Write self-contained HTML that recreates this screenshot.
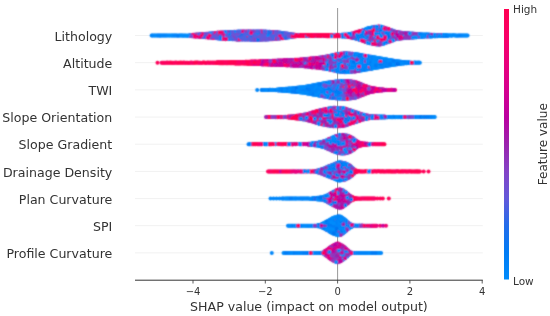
<!DOCTYPE html>
<html><head><meta charset="utf-8"><style>
html,body{margin:0;padding:0;background:#fff;}
svg{display:block;font-family:"DejaVu Sans","Liberation Sans",sans-serif;}
</style></head><body>
<svg width="550" height="316" viewBox="0 0 550 316">
<line x1="135.0" y1="35.5" x2="482.8" y2="35.5" stroke="#f1f1f1" stroke-width="1"/>
<line x1="135.0" y1="62.7" x2="482.8" y2="62.7" stroke="#f1f1f1" stroke-width="1"/>
<line x1="135.0" y1="89.9" x2="482.8" y2="89.9" stroke="#f1f1f1" stroke-width="1"/>
<line x1="135.0" y1="117.1" x2="482.8" y2="117.1" stroke="#f1f1f1" stroke-width="1"/>
<line x1="135.0" y1="144.2" x2="482.8" y2="144.2" stroke="#f1f1f1" stroke-width="1"/>
<line x1="135.0" y1="171.4" x2="482.8" y2="171.4" stroke="#f1f1f1" stroke-width="1"/>
<line x1="135.0" y1="198.6" x2="482.8" y2="198.6" stroke="#f1f1f1" stroke-width="1"/>
<line x1="135.0" y1="225.7" x2="482.8" y2="225.7" stroke="#f1f1f1" stroke-width="1"/>
<line x1="135.0" y1="252.9" x2="482.8" y2="252.9" stroke="#f1f1f1" stroke-width="1"/>
<line x1="337.6" y1="8" x2="337.6" y2="280.2" stroke="#999" stroke-width="1"/>
<defs><filter id="bl" x="-5%" y="-5%" width="110%" height="110%"><feConvolveMatrix order="3" kernelMatrix="1 2 1 2 8 2 1 2 1" divisor="20" edgeMode="none" preserveAlpha="false"/></filter></defs><g fill="none" stroke-width="4.0" stroke-linecap="round" filter="url(#bl)"><path stroke="#236cea" d="M217.2 32.8h0M207.9 34.5h0M286.0 37.7h0"/>
<path stroke="#f20072" d="M237.9 39.7h0M208.5 33.7h0M259.1 35.2h0M368.5 38.2h0M189.9 36.1h0M209.3 36.0h0M374.0 41.9h0M276.0 37.3h0M202.8 36.3h0M363.4 36.4h0M366.7 31.0h0M203.3 35.1h0M353.3 33.2h0M311.0 35.0h0M193.1 36.3h0M351.7 33.5h0M190.6 36.1h0"/>
<path stroke="#0084f9" d="M383.3 38.5h0M371.4 40.6h0M441.9 35.1h0M153.2 35.5h0M437.4 36.2h0M247.9 39.2h0M376.4 38.3h0M412.6 33.6h0M223.6 32.4h0M367.4 28.6h0M361.2 30.8h0M154.0 35.5h0M188.4 35.7h0M376.5 41.3h0M215.5 38.1h0M157.2 35.5h0M221.4 38.8h0"/>
<path stroke="#d5008f" d="M394.5 34.1h0"/>
<path stroke="#4b63e3" d="M268.4 39.4h0M234.5 32.6h0M253.0 33.3h0M242.2 39.0h0M294.7 34.7h0M273.7 32.0h0M220.7 38.1h0M287.4 37.5h0M249.3 31.5h0M265.8 34.5h0M240.3 39.6h0M259.8 39.2h0M201.0 36.9h0M226.9 38.9h0"/>
<path stroke="#754fd1" d="M418.0 37.0h0M239.5 39.5h0M287.3 37.2h0M214.7 38.0h0M265.8 31.6h0M216.4 32.9h0M226.7 32.2h0M248.2 35.0h0M229.0 32.1h0M281.9 35.2h0M340.1 34.9h0M290.8 34.1h0"/>
<path stroke="#007cf5" d="M382.5 43.9h0M259.8 32.9h0M396.4 36.8h0M362.9 33.9h0M377.1 44.4h0M384.9 28.0h0M450.0 35.2h0M426.1 34.5h0M351.6 37.6h0M387.0 41.1h0M369.3 28.2h0M274.6 39.1h0M355.4 36.6h0"/>
<path stroke="#fe005c" d="M301.7 35.0h0M313.2 35.0h0M330.7 36.2h0M312.6 35.0h0M298.1 36.1h0"/>
<path stroke="#f90067" d="M328.1 34.9h0M304.1 35.0h0M211.5 37.3h0M392.9 32.2h0M198.9 34.4h0"/>
<path stroke="#008bfb" d="M377.1 43.8h0M344.3 34.6h0M442.6 35.1h0M409.3 33.4h0M381.2 41.8h0M178.8 35.5h0M403.6 38.1h0M187.6 35.7h0M393.7 35.1h0M431.0 36.4h0M433.0 36.3h0M363.4 38.3h0M375.9 26.8h0M446.2 36.0h0M359.5 39.8h0M393.9 33.0h0M366.2 29.1h0M353.1 37.9h0M389.5 40.4h0M373.6 32.2h0M381.8 27.2h0M350.7 33.7h0M347.6 34.3h0M388.9 41.7h0M390.0 32.8h0M366.9 39.6h0M361.4 40.3h0M284.4 36.2h0M162.0 35.6h0M351.7 37.6h0M264.5 39.5h0M172.4 35.5h0M386.5 32.4h0M247.2 38.5h0M449.2 35.6h0M382.7 27.2h0M236.9 39.4h0M390.7 30.0h0M389.7 29.7h0M202.6 34.1h0"/>
<path stroke="#8443c6" d="M190.2 35.0h0M194.6 34.7h0M270.3 35.5h0M373.1 43.9h0M402.6 32.9h0M254.5 31.4h0M224.4 32.3h0M362.1 30.5h0M403.1 38.2h0"/>
<path stroke="#9b23ad" d="M414.5 37.3h0M394.8 39.5h0M398.2 34.4h0"/>
<path stroke="#0074f0" d="M158.0 35.5h0M458.8 35.6h0M411.6 37.6h0"/>
<path stroke="#c80098" d="M403.9 35.6h0"/>
<path stroke="#6359da" d="M223.1 32.4h0M222.0 38.7h0M227.5 32.2h0M278.4 36.5h0M200.3 36.8h0M294.0 36.3h0M225.3 36.4h0M241.5 31.9h0M271.5 39.2h0M253.8 39.0h0M213.9 33.1h0M216.7 35.7h0M206.9 36.3h0M267.5 31.7h0M210.8 37.6h0M223.4 38.7h0M246.9 36.4h0M251.9 37.0h0M249.1 39.6h0M250.1 39.7h0M229.8 39.1h0M283.4 33.4h0M271.1 37.0h0M254.6 37.3h0"/>
<path stroke="#e9007c" d="M274.6 33.6h0M213.3 37.9h0M289.3 33.9h0M371.9 35.6h0M206.1 33.8h0M263.0 39.6h0M258.7 36.8h0M356.5 34.7h0M221.9 36.7h0M365.5 36.2h0M368.9 31.0h0"/>
<path stroke="#9135ba" d="M386.5 36.5h0M409.2 37.7h0M395.3 37.3h0M410.7 34.5h0M434.3 34.8h0M379.4 26.6h0M379.5 39.2h0M379.4 36.2h0M388.8 39.2h0"/>
<path stroke="#e00086" d="M363.6 30.0h0"/>
<path stroke="#ab15a7" d="M408.7 37.8h0"/>
<path stroke="#ff0051" d="M322.2 36.1h0M309.9 35.0h0M329.3 34.9h0M306.1 35.0h0M299.7 35.0h0M293.7 34.6h0"/>
<path stroke="#0074f0" d="M400.6 38.5h0"/>
<path stroke="#236cea" d="M243.4 33.2h0M257.1 39.7h0M284.6 38.0h0"/>
<path stroke="#8443c6" d="M382.1 44.1h0M384.5 33.7h0M387.8 42.3h0M408.8 34.8h0"/>
<path stroke="#e9007c" d="M283.5 33.0h0M378.6 26.6h0M387.0 34.3h0M200.4 34.9h0M388.5 29.1h0M390.4 35.3h0M347.8 35.6h0M360.0 39.3h0M195.8 34.6h0"/>
<path stroke="#fe005c" d="M241.6 34.1h0M234.0 31.8h0M326.1 34.9h0M325.4 35.0h0"/>
<path stroke="#ab15a7" d="M382.7 32.0h0"/>
<path stroke="#e00086" d="M375.7 28.8h0"/>
<path stroke="#754fd1" d="M231.5 39.1h0M296.7 36.2h0M204.7 34.0h0M197.6 35.6h0M265.2 37.8h0M190.8 35.0h0M255.9 39.7h0M265.6 32.3h0M251.9 32.7h0M267.3 37.6h0M367.6 30.7h0M268.2 33.2h0M276.4 38.9h0"/>
<path stroke="#f20072" d="M384.7 30.4h0M217.8 32.6h0M227.4 38.9h0M225.0 35.2h0M202.2 37.0h0M205.9 34.3h0M262.0 33.1h0M204.9 35.6h0M390.6 39.6h0M390.9 41.1h0M267.5 32.7h0M266.1 39.5h0M223.4 36.3h0M213.9 34.4h0M212.4 37.1h0M265.4 35.8h0"/>
<path stroke="#6359da" d="M224.7 37.5h0M252.5 39.7h0M250.9 39.1h0M292.5 36.7h0M247.3 32.6h0M233.0 39.2h0M279.2 33.3h0M368.1 33.4h0M212.1 33.3h0M268.5 31.7h0M217.6 36.6h0M233.5 31.9h0M242.0 31.5h0M257.7 36.0h0M256.2 31.7h0M287.0 33.5h0"/>
<path stroke="#d5008f" d="M399.0 32.4h0"/>
<path stroke="#0084f9" d="M446.9 36.0h0M337.1 34.9h0M162.8 35.6h0M361.5 32.5h0M393.7 39.4h0M354.0 37.6h0M369.9 37.9h0M176.4 35.4h0M288.4 37.4h0M404.2 38.0h0M390.8 37.4h0M406.0 33.9h0M156.4 35.5h0M405.0 37.9h0M201.8 34.8h0M155.6 35.5h0M373.0 27.2h0M358.7 31.8h0M427.0 36.5h0M281.9 33.4h0M352.2 33.4h0M380.9 38.0h0M368.1 38.1h0M371.4 33.3h0M282.2 38.2h0M349.7 37.2h0M453.2 35.3h0M318.2 35.0h0"/>
<path stroke="#f90067" d="M373.9 28.0h0M207.7 37.4h0M306.1 36.1h0M198.1 35.1h0M235.4 31.8h0M201.5 36.8h0M358.7 31.6h0M379.5 28.5h0M259.7 39.7h0M309.9 36.1h0"/>
<path stroke="#007cf5" d="M436.2 36.2h0M400.1 32.6h0M364.8 34.4h0M362.9 30.3h0M378.2 44.5h0M345.3 36.6h0M174.8 35.6h0M366.2 37.6h0M338.2 36.2h0M462.8 35.6h0M402.1 36.8h0"/>
<path stroke="#9135ba" d="M397.0 38.9h0M418.0 34.1h0M203.6 34.0h0M372.5 27.4h0M421.3 36.8h0M395.6 38.6h0M440.2 35.1h0M368.3 35.5h0M405.0 34.9h0M427.3 36.5h0M380.3 40.3h0"/>
<path stroke="#ff0051" d="M311.4 35.0h0M344.4 36.5h0M336.4 36.2h0M333.0 34.9h0M335.1 34.9h0M316.3 35.0h0M307.5 36.1h0M315.1 36.1h0M325.4 36.1h0M300.6 35.0h0"/>
<path stroke="#bb00a0" d="M408.6 36.4h0"/>
<path stroke="#4b63e3" d="M262.0 39.7h0M288.6 33.7h0M269.9 31.8h0M246.9 39.6h0M218.1 34.7h0M234.5 37.5h0M219.2 34.2h0M239.3 37.7h0M211.5 37.7h0M280.1 34.2h0M232.7 38.5h0M197.0 36.6h0M221.1 38.6h0M224.9 33.0h0M215.2 37.6h0M293.4 34.5h0"/>
<path stroke="#008bfb" d="M444.3 35.1h0M366.1 41.6h0M414.0 33.7h0M226.9 36.9h0M367.6 40.2h0M389.4 30.5h0M387.1 28.6h0M177.2 35.6h0M364.6 41.4h0M441.2 36.0h0M362.9 39.1h0M375.1 38.9h0M394.3 36.1h0M452.4 35.3h0M441.9 36.0h0M363.6 34.0h0M377.2 28.1h0M398.4 38.7h0M447.1 35.1h0M358.0 36.8h0M348.9 37.1h0M372.0 29.3h0M369.7 43.2h0M423.6 36.7h0M262.8 37.2h0M221.1 36.2h0M433.4 34.8h0M382.0 32.1h0M343.8 36.5h0M356.1 33.0h0M171.6 35.6h0M152.4 35.5h0M189.2 35.3h0"/>
<path stroke="#9b23ad" d="M398.0 32.2h0M372.5 41.1h0M360.0 37.0h0M354.6 32.8h0M338.1 34.9h0M399.0 38.7h0"/>
<path stroke="#008bfb" d="M381.7 29.7h0M435.4 34.9h0M160.4 35.5h0M362.6 40.8h0M385.4 43.1h0M388.2 31.4h0M309.3 36.1h0M170.8 35.6h0M392.5 30.6h0M173.2 35.6h0M375.3 44.3h0M353.2 34.9h0M357.9 34.3h0M320.2 35.0h0M384.8 41.0h0M230.3 32.2h0M436.2 34.9h0M415.8 35.3h0M371.6 31.5h0M290.6 35.4h0M388.6 41.6h0M376.9 33.8h0M368.5 28.4h0M438.8 35.0h0M419.3 36.8h0M191.7 34.9h0M315.5 35.0h0M361.7 37.1h0M393.2 30.9h0M424.4 34.5h0M410.7 33.5h0M466.0 35.6h0M391.3 31.1h0M373.7 27.0h0M458.0 35.6h0M175.6 35.5h0M364.6 29.7h0M170.0 35.5h0M243.8 38.6h0M355.4 38.5h0M230.9 35.2h0"/>
<path stroke="#4b63e3" d="M219.0 38.4h0M271.5 35.0h0M253.3 31.4h0M293.0 36.6h0M286.5 35.6h0M285.9 33.4h0M243.9 32.4h0M245.1 39.6h0M282.3 32.9h0M263.4 31.5h0M243.6 31.5h0M273.0 32.0h0M209.2 33.6h0M229.9 32.0h0"/>
<path stroke="#236cea" d="M252.0 38.7h0M219.7 37.9h0M242.6 39.6h0M236.2 32.4h0M301.3 36.1h0"/>
<path stroke="#e9007c" d="M221.2 34.0h0M199.8 36.8h0M360.7 31.1h0M270.8 31.9h0"/>
<path stroke="#754fd1" d="M244.4 31.5h0M275.4 32.9h0M202.7 37.0h0M244.7 39.6h0M204.9 34.2h0M206.7 37.3h0M262.0 31.4h0M269.3 31.8h0M406.6 33.3h0M251.0 31.4h0M248.4 39.6h0M290.8 34.6h0M236.9 31.7h0M256.0 34.2h0M231.7 37.1h0"/>
<path stroke="#9135ba" d="M376.2 36.2h0M422.8 35.9h0M411.8 33.5h0M374.9 26.8h0M403.7 33.0h0M392.7 39.6h0"/>
<path stroke="#ff0051" d="M319.8 35.0h0M330.1 34.9h0M301.1 35.0h0M309.3 35.0h0M305.1 36.1h0M315.6 36.1h0M319.4 36.1h0M336.4 34.9h0M298.5 35.0h0"/>
<path stroke="#8443c6" d="M396.4 32.1h0M239.4 34.3h0M395.1 31.7h0M372.5 36.2h0M269.3 36.1h0M199.8 34.3h0M360.1 40.0h0"/>
<path stroke="#9b23ad" d="M380.3 44.5h0M378.3 42.2h0"/>
<path stroke="#f90067" d="M275.1 32.0h0M293.9 36.5h0M281.1 37.6h0M342.6 34.7h0M234.0 33.0h0M246.2 31.5h0"/>
<path stroke="#6359da" d="M240.5 31.5h0M209.6 33.8h0M254.1 39.7h0M290.1 37.1h0M279.0 38.6h0M229.1 39.0h0M256.2 31.4h0M269.3 39.3h0M193.8 36.4h0M271.6 32.7h0M213.0 33.2h0M248.8 31.6h0M229.1 37.4h0M280.4 38.4h0M234.2 39.3h0M225.8 32.2h0M224.3 38.8h0M244.3 34.4h0M221.8 34.4h0"/>
<path stroke="#007cf5" d="M242.8 37.1h0M451.6 35.8h0M371.1 27.8h0M316.5 36.1h0M418.6 34.2h0M447.6 35.9h0M417.2 37.1h0M210.8 33.5h0M467.6 35.5h0M408.1 36.0h0M394.2 31.3h0M413.0 33.8h0M397.1 32.2h0M196.7 34.6h0"/>
<path stroke="#0084f9" d="M370.7 43.3h0M250.8 39.7h0M249.3 36.2h0M341.1 36.3h0M372.6 43.7h0M353.7 38.1h0M429.8 34.7h0M373.8 44.1h0M460.4 35.6h0M416.4 34.0h0M357.9 31.8h0M396.5 39.0h0M166.8 35.5h0M278.2 32.4h0M406.7 37.8h0M290.6 37.0h0M360.1 34.8h0M381.4 26.8h0M401.2 35.3h0M423.7 34.4h0M203.6 36.9h0M228.2 39.0h0"/>
<path stroke="#f20072" d="M392.7 40.5h0M238.9 36.0h0M213.9 38.0h0M192.3 36.2h0M236.8 34.8h0M288.4 34.3h0M236.4 39.4h0M378.7 31.0h0M385.7 28.3h0M349.3 35.1h0M289.8 34.2h0M233.0 36.7h0M195.6 36.5h0M303.4 35.0h0M192.6 34.9h0M290.0 35.9h0"/>
<path stroke="#e00086" d="M268.9 38.3h0M372.2 33.8h0"/>
<path stroke="#fe005c" d="M338.6 34.9h0M304.2 36.1h0M327.4 36.2h0M342.0 34.7h0M296.9 35.0h0M389.3 29.4h0M337.3 36.2h0M370.0 30.0h0M317.2 36.1h0M311.3 36.1h0M319.0 35.0h0M305.1 35.0h0"/>
<path stroke="#0074f0" d="M426.7 34.6h0M182.0 35.6h0M389.7 35.3h0M194.1 34.7h0"/>
<path stroke="#e9007c" d="M212.4 37.8h0M206.9 33.8h0M280.5 32.7h0M383.7 36.6h0M378.6 34.9h0M356.9 39.0h0M355.1 36.1h0"/>
<path stroke="#fe005c" d="M248.3 36.9h0M312.4 36.1h0M335.4 34.9h0M329.9 36.2h0"/>
<path stroke="#8443c6" d="M423.9 36.4h0M228.7 32.1h0M260.4 31.4h0M410.2 36.8h0M391.6 30.3h0M227.1 32.8h0M350.0 37.2h0M374.9 37.0h0M386.8 42.5h0M266.4 38.0h0M407.3 37.8h0"/>
<path stroke="#4b63e3" d="M227.1 34.6h0M297.5 36.1h0M250.9 35.3h0M241.4 39.6h0M292.1 34.4h0M263.6 39.6h0M287.3 33.6h0M267.7 39.4h0M290.1 34.0h0M241.5 35.7h0M251.3 31.4h0M253.1 34.8h0M238.9 39.5h0M209.0 37.5h0"/>
<path stroke="#f90067" d="M212.3 35.4h0M324.2 36.1h0M225.3 39.2h0M308.2 36.1h0M355.3 32.6h0M374.6 35.2h0M245.6 36.8h0M332.6 34.9h0M314.2 35.0h0"/>
<path stroke="#008bfb" d="M374.8 41.4h0M400.2 34.6h0M274.3 36.4h0M375.3 31.5h0M438.3 36.1h0M342.5 36.4h0M186.0 35.7h0M231.1 39.1h0M333.9 34.9h0M345.1 34.5h0M378.7 41.5h0M163.6 35.6h0M240.4 35.6h0M380.4 26.6h0M431.4 36.4h0M402.1 34.6h0M383.1 29.6h0M359.9 32.7h0M386.6 29.5h0M318.6 36.1h0M370.0 40.0h0M465.2 35.6h0M343.4 34.6h0M281.2 38.3h0M418.7 34.9h0M367.0 42.3h0M383.4 43.6h0M427.4 34.6h0M391.8 40.8h0M166.0 35.6h0"/>
<path stroke="#9135ba" d="M369.5 35.2h0M369.0 42.9h0M412.2 37.4h0M366.2 35.8h0M408.3 33.3h0"/>
<path stroke="#6359da" d="M276.7 32.3h0M266.3 36.6h0M255.0 39.7h0M233.1 35.6h0M291.4 34.2h0M227.9 35.4h0M277.2 35.0h0M265.5 39.4h0M235.8 39.3h0M276.5 32.2h0M201.0 34.2h0M258.2 39.3h0M211.8 33.4h0M217.1 37.7h0M238.0 36.5h0M215.0 33.1h0M273.2 34.3h0M277.4 32.3h0M225.2 34.1h0M234.4 35.6h0"/>
<path stroke="#f20072" d="M215.5 33.0h0M378.2 26.6h0M387.9 28.8h0M366.8 42.3h0M205.7 37.3h0M383.9 35.6h0M193.2 34.8h0M385.7 42.8h0M362.3 31.1h0M277.9 32.4h0M374.7 40.0h0M383.6 41.1h0M197.4 34.5h0"/>
<path stroke="#bb00a0" d="M395.7 31.9h0"/>
<path stroke="#ff0051" d="M317.0 35.0h0M339.3 34.9h0M307.0 35.0h0M318.0 36.1h0M324.3 35.0h0M327.1 36.2h0M302.2 36.1h0M335.4 36.2h0M327.6 34.9h0"/>
<path stroke="#0084f9" d="M443.8 36.0h0M435.6 36.2h0M418.8 36.9h0M425.9 35.3h0M368.8 33.5h0M370.2 43.1h0M407.3 33.3h0M230.8 32.0h0M403.7 32.9h0M167.6 35.5h0M448.4 35.5h0M261.0 33.3h0M402.4 33.4h0M437.1 34.9h0M388.1 42.0h0M174.0 35.4h0M268.1 35.3h0M285.3 35.2h0M444.7 36.0h0M291.9 36.9h0M219.8 38.5h0M237.9 31.6h0M420.3 34.3h0M346.7 36.7h0M349.9 33.9h0M434.5 36.2h0M168.4 35.6h0"/>
<path stroke="#754fd1" d="M258.6 39.7h0M210.9 35.2h0M258.9 31.4h0M262.7 31.5h0M376.6 44.4h0M236.7 31.7h0M237.4 33.9h0M257.9 31.4h0M253.1 37.0h0M261.2 39.7h0M240.7 33.2h0M257.8 34.9h0M275.4 39.0h0M253.9 33.0h0M263.5 38.9h0M244.9 31.5h0M265.4 39.5h0M238.2 39.5h0M228.4 32.8h0M205.0 33.9h0M247.7 39.6h0M191.5 36.2h0M257.5 37.7h0"/>
<path stroke="#c80098" d="M397.8 32.3h0M399.8 37.1h0"/>
<path stroke="#007cf5" d="M442.8 36.0h0M445.5 35.1h0M420.5 36.8h0M385.5 42.2h0M440.3 36.0h0M404.5 33.1h0M159.6 35.5h0"/>
<path stroke="#236cea" d="M257.0 31.7h0M218.9 35.5h0"/>
<path stroke="#9b23ad" d="M408.3 33.2h0M413.8 37.4h0M406.8 36.0h0M397.9 36.7h0M379.7 43.6h0M412.6 37.5h0M401.3 38.4h0"/>
<path stroke="#6359da" d="M198.1 36.7h0M295.6 34.8h0M262.8 34.7h0M283.4 38.1h0M263.7 34.8h0M246.1 39.6h0M264.8 33.3h0M225.0 38.8h0M399.7 32.5h0M260.1 39.7h0M266.6 39.4h0M216.2 38.2h0M254.2 35.5h0M198.3 34.4h0M241.1 31.5h0M260.5 31.4h0"/>
<path stroke="#e00086" d="M242.8 31.5h0"/>
<path stroke="#008bfb" d="M154.8 35.5h0M279.8 32.6h0M210.0 33.5h0M368.1 42.7h0M322.5 36.1h0M422.6 34.4h0M383.5 34.2h0M225.3 32.3h0M381.8 36.5h0M385.8 34.1h0M454.0 35.3h0M466.8 35.5h0M341.4 34.8h0M399.9 33.3h0M346.8 34.4h0M439.6 35.0h0M398.2 38.8h0M253.9 31.4h0M180.4 35.5h0M417.1 35.8h0M367.2 35.1h0M445.8 35.1h0M279.0 35.3h0M279.2 36.9h0M463.6 35.5h0M374.0 37.7h0M346.1 34.4h0M429.2 36.5h0M372.0 42.6h0M383.4 43.6h0M169.2 35.5h0M165.2 35.6h0M186.8 35.5h0"/>
<path stroke="#ff0051" d="M332.2 36.2h0M217.3 34.1h0M294.8 36.4h0M333.3 36.2h0M300.2 36.1h0M321.8 35.0h0M303.7 36.1h0M333.9 36.2h0M335.0 36.2h0M323.9 35.0h0"/>
<path stroke="#4b63e3" d="M254.4 39.7h0M270.4 37.3h0M286.9 37.6h0M218.0 32.7h0M218.1 38.4h0M274.2 39.1h0M236.9 37.5h0M208.1 35.8h0M239.5 31.6h0M245.6 32.9h0M251.5 35.0h0"/>
<path stroke="#f90067" d="M272.4 31.9h0M313.7 36.1h0M330.7 34.9h0M250.1 31.4h0M321.0 36.1h0M356.4 32.3h0M326.0 36.2h0M348.6 36.9h0M351.0 37.4h0"/>
<path stroke="#9b23ad" d="M372.5 29.2h0M402.1 38.3h0M375.3 44.0h0M425.0 36.6h0M349.1 36.5h0M352.6 37.7h0M385.6 39.1h0"/>
<path stroke="#0084f9" d="M267.0 31.7h0M424.5 35.8h0M385.9 32.3h0M377.6 30.1h0M164.4 35.5h0M289.4 37.2h0M419.7 36.4h0M158.8 35.5h0M378.3 40.2h0M392.0 36.8h0M234.5 31.8h0M355.0 34.5h0M459.6 35.6h0M371.5 27.6h0M362.9 36.5h0M390.8 32.9h0M179.6 35.6h0M356.5 38.8h0M161.2 35.5h0M387.5 39.2h0M428.3 34.6h0M455.6 35.6h0M426.1 36.6h0"/>
<path stroke="#e9007c" d="M199.1 36.7h0M371.2 37.9h0M385.1 37.1h0M358.1 39.3h0M390.2 41.4h0M205.2 37.2h0M384.2 27.7h0"/>
<path stroke="#9135ba" d="M381.0 28.0h0M395.4 39.2h0M377.9 27.0h0M383.9 27.5h0M252.6 31.4h0M393.7 37.4h0M401.8 32.8h0M405.9 33.2h0M413.4 36.2h0M385.3 29.3h0M372.5 38.5h0"/>
<path stroke="#754fd1" d="M262.9 39.0h0M263.8 32.6h0M275.0 37.2h0M285.2 37.9h0M271.6 31.9h0M260.1 37.6h0M265.4 31.6h0M281.5 37.0h0M246.8 31.5h0M216.1 34.9h0M297.9 35.0h0M381.1 44.3h0M390.2 37.6h0M242.2 39.6h0M282.5 32.9h0M248.5 33.0h0M219.1 32.7h0"/>
<path stroke="#c80098" d="M394.1 39.8h0M398.3 36.3h0M396.5 33.9h0"/>
<path stroke="#f20072" d="M230.9 32.6h0M239.6 39.2h0M372.6 31.9h0M194.9 36.4h0M261.4 31.4h0M277.0 38.8h0M357.3 32.1h0M381.4 39.4h0M291.6 36.4h0M354.2 33.0h0M380.0 32.9h0M375.1 44.3h0"/>
<path stroke="#8443c6" d="M432.2 34.8h0M284.9 34.1h0M441.2 35.1h0M382.5 34.0h0M413.8 34.4h0"/>
<path stroke="#fe005c" d="M282.9 38.2h0M365.1 41.7h0M302.7 35.0h0M340.2 36.2h0M295.9 36.3h0M308.2 35.0h0M272.7 39.2h0"/>
<path stroke="#236cea" d="M242.2 35.0h0M270.2 32.6h0"/>
<path stroke="#bb00a0" d="M397.0 34.4h0M379.4 44.5h0"/>
<path stroke="#0074f0" d="M432.6 36.3h0M220.6 32.5h0M429.5 34.6h0M355.0 38.3h0"/>
<path stroke="#007cf5" d="M357.4 37.0h0M376.1 31.2h0M229.6 34.4h0M348.4 34.2h0M178.0 35.7h0M387.9 34.1h0M349.5 34.0h0M368.4 28.1h0M422.7 36.7h0M306.9 36.1h0M461.2 35.4h0M410.9 37.6h0M365.4 41.6h0M430.5 34.7h0"/>
<path stroke="#ab15a7" d="M401.2 32.7h0"/>
<path stroke="#9b23ad" d="M366.1 33.4h0M369.9 33.0h0M378.8 44.5h0M416.2 37.1h0M431.5 34.7h0"/>
<path stroke="#f90067" d="M222.9 38.7h0M378.1 37.8h0M357.7 32.6h0M366.3 42.0h0M201.8 34.1h0M273.0 39.2h0M209.8 37.6h0M384.9 38.6h0M329.3 36.2h0"/>
<path stroke="#236cea" d="M204.5 37.1h0M250.2 37.2h0M284.2 33.1h0M285.1 37.8h0M281.0 32.8h0M240.4 37.1h0"/>
<path stroke="#bb00a0" d="M352.3 34.8h0"/>
<path stroke="#ab15a7" d="M405.2 33.2h0"/>
<path stroke="#754fd1" d="M270.9 39.2h0M418.5 36.4h0M253.1 39.7h0M415.6 33.9h0M259.6 31.4h0M270.1 39.3h0M288.9 36.2h0M437.7 35.0h0M238.6 32.1h0M255.4 37.9h0M221.2 32.5h0M232.8 33.8h0M234.9 39.3h0"/>
<path stroke="#007cf5" d="M365.4 29.4h0M445.1 36.0h0M377.2 26.7h0M380.4 30.3h0M342.0 36.4h0M421.1 34.3h0M456.4 35.6h0"/>
<path stroke="#e00086" d="M247.8 31.5h0"/>
<path stroke="#fe005c" d="M323.8 36.1h0M299.7 36.1h0M302.6 36.1h0M296.2 34.9h0M331.5 34.9h0M373.5 30.2h0M313.3 36.1h0M359.3 31.3h0M315.1 35.0h0"/>
<path stroke="#8443c6" d="M255.8 31.4h0M277.5 34.8h0M256.2 39.7h0M233.6 37.7h0M405.9 37.9h0M416.9 34.0h0M417.1 34.3h0M339.3 36.2h0"/>
<path stroke="#0074f0" d="M257.8 32.6h0M257.9 39.7h0M388.8 36.7h0"/>
<path stroke="#9135ba" d="M428.5 36.5h0M363.5 41.1h0M409.8 37.7h0M369.3 40.3h0M353.9 36.7h0M380.2 42.9h0M400.9 33.0h0M405.7 37.3h0M415.0 35.7h0M413.4 33.7h0M394.8 31.6h0M420.3 34.4h0M412.4 35.2h0M377.5 32.7h0M414.9 33.8h0"/>
<path stroke="#e9007c" d="M223.4 34.6h0M279.6 38.5h0M365.6 31.4h0M392.4 34.0h0M279.9 36.1h0M401.3 36.9h0"/>
<path stroke="#0084f9" d="M430.1 36.4h0M231.4 32.0h0M356.9 34.9h0M151.6 35.5h0M384.4 43.4h0M438.9 36.1h0M434.2 36.3h0M370.1 28.0h0M183.6 35.7h0M425.1 34.5h0M256.9 34.0h0M462.0 35.4h0M376.3 26.7h0M419.5 34.3h0M363.2 31.7h0M457.2 35.7h0M422.2 34.4h0M184.4 35.6h0M371.5 43.5h0M361.7 34.4h0M360.6 38.9h0M220.3 38.6h0"/>
<path stroke="#d5008f" d="M399.7 38.6h0"/>
<path stroke="#6359da" d="M275.5 32.1h0M261.1 35.6h0M263.1 36.7h0M261.4 37.8h0M245.3 35.0h0M251.6 39.7h0M285.5 33.2h0M232.5 31.9h0M210.8 37.1h0M278.0 38.7h0M213.8 36.8h0M275.9 35.0h0M207.7 33.7h0M273.0 39.1h0M243.8 39.6h0"/>
<path stroke="#008bfb" d="M464.4 35.5h0M393.4 40.2h0M366.7 28.8h0M415.4 37.2h0M346.4 36.2h0M182.8 35.5h0M439.9 36.1h0M345.9 36.7h0M454.8 35.5h0M381.0 35.7h0M381.8 27.0h0M421.7 36.7h0M434.7 34.9h0M379.4 33.6h0M409.8 33.4h0M358.6 39.5h0M185.2 35.6h0M367.4 42.5h0M416.0 37.4h0M364.9 38.6h0M443.8 35.1h0M376.0 34.0h0M350.5 34.8h0M450.8 35.5h0M424.1 36.6h0M331.5 36.2h0M413.1 37.4h0M181.2 35.6h0"/>
<path stroke="#4b63e3" d="M264.2 31.6h0M279.0 32.5h0M217.5 38.3h0M232.6 39.2h0M255.7 35.8h0M273.1 36.8h0M200.1 34.3h0M248.9 34.2h0M245.7 39.2h0M203.8 37.1h0M257.4 31.4h0M230.3 37.1h0M273.4 38.2h0M283.5 35.7h0M238.6 31.6h0M222.7 32.4h0M248.4 31.5h0M246.5 34.5h0M241.0 38.1h0M249.4 37.7h0M243.9 36.4h0"/>
<path stroke="#ff0051" d="M338.9 36.2h0M307.5 35.0h0M320.5 36.1h0M219.7 32.6h0M311.1 36.1h0M321.1 35.0h0M328.5 36.2h0M326.8 34.9h0M322.5 35.0h0M298.8 36.1h0"/>
<path stroke="#f20072" d="M372.8 43.8h0M221.9 32.4h0M209.7 35.6h0M251.1 32.9h0M363.3 40.9h0M208.4 37.4h0M196.2 36.5h0M345.5 34.8h0M201.4 35.4h0M347.7 36.8h0M384.5 28.5h0M226.0 38.9h0M361.9 40.6h0"/>
<path stroke="#f20072" d="M339.0 59.8h0M267.0 61.1h0M302.9 66.1h0M324.7 66.5h0M309.7 59.3h0"/>
<path stroke="#007cf5" d="M356.7 55.6h0M355.5 69.0h0M359.4 59.0h0M308.0 66.6h0M407.0 63.2h0"/>
<path stroke="#9135ba" d="M318.1 67.7h0M362.7 64.9h0M304.6 59.1h0M342.7 56.5h0M309.3 66.8h0M332.4 56.8h0M293.6 63.0h0M355.1 56.1h0M326.3 56.5h0M347.3 54.6h0M336.7 54.3h0M347.6 57.1h0M324.0 56.9h0M351.0 58.3h0M349.8 65.8h0M288.4 65.0h0M361.0 55.3h0M337.0 54.8h0"/>
<path stroke="#8443c6" d="M291.0 62.2h0M318.8 57.7h0M314.1 66.4h0M343.9 72.1h0"/>
<path stroke="#754fd1" d="M291.2 60.0h0M308.5 66.7h0"/>
<path stroke="#ab15a7" d="M285.9 62.6h0M267.8 61.0h0"/>
<path stroke="#f90067" d="M193.5 62.8h0M261.4 61.3h0M237.5 62.1h0M236.6 63.4h0M223.8 62.2h0M283.7 62.9h0M340.0 71.2h0M244.0 63.6h0M353.4 71.6h0"/>
<path stroke="#9b23ad" d="M317.6 67.6h0M328.8 56.1h0M300.5 62.0h0M350.3 71.8h0M291.0 63.9h0"/>
<path stroke="#c80098" d="M292.9 65.5h0M319.3 63.4h0M283.4 65.1h0M300.2 60.7h0M277.4 60.6h0M311.0 64.0h0M266.0 61.1h0M286.8 62.5h0M288.6 60.1h0"/>
<path stroke="#e00086" d="M299.2 63.4h0M302.4 59.4h0"/>
<path stroke="#0074f0" d="M388.9 61.8h0"/>
<path stroke="#0084f9" d="M363.0 63.2h0M359.4 61.9h0M385.5 60.4h0M373.0 61.4h0M347.3 59.4h0M369.0 64.5h0M335.7 59.4h0M404.9 62.2h0M346.5 62.8h0M379.2 67.3h0M363.1 66.0h0M375.2 66.7h0M367.6 56.2h0M342.5 58.9h0M403.9 63.4h0M399.9 61.6h0M367.1 66.2h0M384.4 60.4h0M363.3 56.1h0"/>
<path stroke="#bb00a0" d="M289.8 65.3h0M300.2 59.6h0M260.1 61.3h0M322.1 57.2h0M320.7 67.9h0M318.0 58.4h0"/>
<path stroke="#008bfb" d="M383.0 58.9h0M342.5 61.0h0M366.5 55.9h0M361.6 62.4h0M351.1 64.0h0M408.1 62.3h0M347.2 68.6h0M356.7 71.2h0M394.7 63.7h0M415.1 62.6h0M368.2 69.2h0M350.9 71.8h0M373.7 57.2h0M389.6 65.4h0M400.6 63.8h0M369.1 59.6h0M352.7 71.6h0M332.1 70.0h0M338.5 62.3h0M340.2 66.3h0M351.5 66.6h0M325.8 62.3h0M340.5 71.8h0M372.1 57.0h0M352.9 54.0h0M375.0 68.0h0M354.1 53.9h0M366.6 66.6h0M309.1 60.5h0M348.7 71.9h0M385.9 62.5h0M342.6 68.3h0M391.9 64.7h0M376.8 57.8h0M360.0 63.7h0M384.7 59.2h0M371.2 68.7h0"/>
<path stroke="#d5008f" d="M303.9 61.9h0M324.4 59.5h0M315.9 58.0h0M279.3 61.4h0M313.5 67.2h0M266.7 63.8h0M287.8 65.3h0M291.9 61.4h0"/>
<path stroke="#e9007c" d="M265.6 64.3h0M257.7 62.7h0M312.1 67.0h0M268.5 64.4h0M345.2 66.1h0"/>
<path stroke="#ff0051" d="M381.2 59.9h0M260.1 62.8h0M227.0 63.3h0M191.9 62.7h0M249.5 63.8h0M173.5 62.8h0M224.8 62.2h0M211.1 62.8h0M186.3 62.8h0M222.2 63.2h0M212.7 62.6h0M189.5 62.8h0M256.4 62.8h0M249.8 61.7h0M187.9 62.8h0M246.0 61.8h0"/>
<path stroke="#fe005c" d="M180.7 62.6h0M231.4 62.1h0M227.4 62.2h0M251.7 63.8h0M213.5 63.0h0M176.7 62.8h0M218.9 62.3h0M194.3 62.7h0M224.7 63.2h0M235.4 62.1h0M162.3 62.7h0M218.3 63.1h0M183.9 62.6h0M250.3 61.8h0M205.5 62.9h0M370.5 68.8h0M190.3 62.7h0M233.2 62.1h0"/>
<path stroke="#f20072" d="M257.6 63.5h0M260.8 61.3h0M304.6 63.5h0M273.4 64.6h0M247.2 63.7h0M168.7 62.8h0M276.8 63.3h0"/>
<path stroke="#c80098" d="M279.7 64.0h0M292.9 59.9h0M305.5 59.1h0M291.1 65.4h0M294.9 65.7h0M296.9 65.7h0M323.3 57.1h0M287.3 60.2h0M262.5 61.5h0"/>
<path stroke="#d5008f" d="M294.4 61.5h0M296.5 63.1h0M316.0 67.4h0M327.7 59.2h0M284.9 64.9h0M304.5 66.3h0M271.9 60.9h0M269.6 61.0h0M325.3 66.8h0"/>
<path stroke="#0074f0" d="M343.3 62.0h0M335.8 64.3h0M371.8 61.7h0"/>
<path stroke="#ab15a7" d="M321.0 58.2h0M303.2 59.3h0M293.4 65.5h0"/>
<path stroke="#0084f9" d="M334.0 66.6h0M389.5 60.0h0M357.7 54.4h0M395.8 64.4h0M318.7 65.9h0M382.2 58.7h0M396.0 61.1h0M369.2 68.9h0M385.7 59.3h0M394.8 61.0h0M354.9 57.2h0M343.2 53.4h0M347.1 72.1h0M345.2 70.8h0M371.5 63.5h0M318.4 57.8h0M330.1 69.6h0M372.4 68.4h0M369.6 60.6h0M367.5 59.5h0M394.1 60.8h0M355.4 59.1h0"/>
<path stroke="#fe005c" d="M167.1 62.6h0M228.5 63.3h0M242.5 61.9h0M238.2 63.4h0M235.8 62.1h0M215.1 62.7h0M172.7 62.8h0M177.5 62.7h0M259.4 61.4h0M203.1 62.6h0M262.2 61.2h0M221.5 62.3h0M201.5 62.9h0M200.7 62.8h0M241.5 62.0h0M250.0 61.7h0"/>
<path stroke="#bb00a0" d="M288.9 60.2h0M267.8 64.4h0M264.7 64.3h0M293.6 59.9h0M312.6 67.1h0M284.7 60.5h0M286.4 60.2h0"/>
<path stroke="#e00086" d="M300.1 65.8h0M342.3 70.8h0M269.1 62.5h0"/>
<path stroke="#ff0051" d="M185.5 62.7h0M231.9 63.3h0M216.8 62.3h0M165.5 62.7h0M229.6 62.2h0M208.7 62.5h0M253.0 62.7h0M231.8 62.1h0M228.0 62.2h0M220.6 63.2h0"/>
<path stroke="#008bfb" d="M371.1 59.2h0M354.2 67.3h0M348.5 70.1h0M364.8 69.5h0M352.6 57.0h0M342.4 53.5h0M328.7 69.3h0M387.7 59.7h0M363.9 55.5h0M308.9 66.3h0M401.0 61.7h0M339.1 71.6h0M361.4 68.1h0M402.1 61.9h0M315.2 64.1h0M358.5 67.1h0M368.4 56.8h0M391.2 60.3h0M368.8 56.4h0M418.3 62.8h0M345.2 57.3h0M386.9 59.6h0M345.7 69.0h0M344.7 59.2h0M346.2 58.1h0M384.8 66.3h0M404.6 63.3h0M374.8 60.1h0M365.5 59.3h0M380.7 58.5h0M320.5 57.5h0"/>
<path stroke="#f90067" d="M331.9 64.7h0M272.5 64.6h0M228.9 62.2h0M171.1 62.8h0M382.4 66.7h0M192.7 62.8h0M240.4 63.4h0M187.1 62.7h0M379.1 59.8h0M292.4 64.6h0"/>
<path stroke="#9b23ad" d="M314.2 58.2h0"/>
<path stroke="#9135ba" d="M337.8 62.9h0M353.5 53.9h0M344.5 53.3h0M344.9 63.7h0M295.2 65.6h0M318.8 67.7h0M337.7 60.1h0M332.6 62.0h0M361.9 57.4h0M339.9 61.4h0M371.7 56.9h0M300.1 64.8h0M271.1 64.5h0"/>
<path stroke="#754fd1" d="M312.6 58.3h0M343.4 59.4h0M307.9 58.8h0"/>
<path stroke="#e9007c" d="M266.3 64.3h0M341.3 71.8h0M282.4 61.5h0M258.6 61.4h0M323.5 64.6h0M315.0 58.1h0"/>
<path stroke="#007cf5" d="M342.1 54.5h0M397.0 61.2h0M375.1 62.2h0M346.0 55.6h0M347.0 53.4h0M336.0 71.0h0M339.4 53.9h0M379.8 58.3h0M373.8 63.3h0M372.4 59.1h0M358.1 55.6h0"/>
<path stroke="#8443c6" d="M344.0 53.3h0M322.4 65.2h0M363.6 69.9h0M354.9 71.5h0M289.5 60.1h0M289.7 62.3h0M355.2 64.2h0"/>
<path stroke="#d5008f" d="M266.5 62.2h0M298.4 59.7h0M294.8 59.8h0M295.3 61.4h0M291.7 63.3h0M327.7 56.2h0"/>
<path stroke="#e9007c" d="M348.5 71.1h0M321.2 57.4h0M238.8 62.0h0M335.2 70.8h0M262.1 64.2h0"/>
<path stroke="#f20072" d="M209.5 63.0h0M245.5 61.8h0M256.2 64.0h0M271.1 62.8h0M348.2 66.3h0M259.8 64.1h0M330.9 70.0h0"/>
<path stroke="#754fd1" d="M313.3 62.4h0"/>
<path stroke="#9135ba" d="M315.1 65.9h0M355.4 61.1h0M348.9 63.5h0M349.5 58.6h0M352.4 53.8h0M338.3 71.5h0M308.4 64.1h0M360.8 57.3h0M352.1 53.7h0M300.6 65.7h0M333.7 56.5h0M279.0 60.6h0"/>
<path stroke="#f90067" d="M338.2 53.9h0M161.5 62.8h0M281.4 60.5h0M251.9 61.6h0"/>
<path stroke="#8443c6" d="M315.9 61.8h0M311.3 60.3h0M343.8 54.4h0M329.4 56.0h0M317.0 59.9h0M376.0 58.3h0M304.9 61.2h0M337.2 57.9h0M340.9 61.3h0M364.3 60.0h0M306.8 58.9h0M322.0 62.8h0M334.5 70.6h0M321.9 58.3h0"/>
<path stroke="#fe005c" d="M226.5 62.2h0M230.4 63.3h0M253.7 61.5h0M199.9 62.8h0M170.3 62.6h0M163.9 62.8h0M202.3 62.7h0M232.9 62.1h0M236.7 62.1h0M243.1 63.5h0"/>
<path stroke="#9b23ad" d="M333.4 61.8h0M316.4 64.6h0"/>
<path stroke="#ab15a7" d="M302.5 64.2h0"/>
<path stroke="#007cf5" d="M356.1 54.1h0M351.1 66.2h0M331.3 67.2h0M394.5 64.6h0M377.0 60.5h0M387.0 65.9h0M334.2 55.0h0M344.2 57.1h0M386.3 61.6h0M363.2 70.1h0"/>
<path stroke="#ff0051" d="M248.5 63.7h0M215.9 62.9h0M188.7 62.9h0M207.9 62.8h0M199.1 62.8h0M246.9 61.8h0M178.3 62.7h0M225.7 63.2h0M207.1 62.6h0M197.5 62.6h0M239.0 63.4h0M256.5 64.0h0"/>
<path stroke="#c80098" d="M331.8 69.5h0M275.2 60.7h0M317.8 65.6h0M290.4 65.4h0M336.7 54.5h0M280.9 65.0h0M311.1 66.9h0M286.3 65.2h0M323.7 57.3h0M278.7 64.0h0M288.9 63.7h0M275.7 60.7h0M319.9 67.8h0M311.4 61.8h0M302.1 66.1h0"/>
<path stroke="#0074f0" d="M306.6 66.0h0M403.2 63.5h0M361.6 60.2h0M345.3 54.8h0"/>
<path stroke="#0084f9" d="M404.1 62.1h0M379.4 58.2h0M349.3 61.0h0M365.6 69.6h0M395.3 62.2h0M409.5 62.4h0M372.7 66.3h0M380.2 66.4h0M354.5 62.5h0M388.4 59.9h0M340.0 71.7h0M380.9 60.2h0M341.5 70.4h0M367.1 56.1h0M374.3 67.5h0M386.4 66.0h0M393.0 64.9h0M330.1 66.4h0M366.4 63.9h0M325.7 57.6h0M386.1 59.4h0M341.0 67.4h0M379.6 64.5h0M374.7 64.6h0M350.3 68.7h0"/>
<path stroke="#008bfb" d="M343.1 72.0h0M413.5 62.8h0M340.7 53.7h0M383.3 66.1h0M376.8 67.7h0M411.1 62.4h0M336.1 61.7h0M405.7 63.2h0M336.3 68.8h0M336.7 56.8h0M361.4 60.3h0M341.8 65.1h0M368.5 69.1h0M368.4 67.1h0M357.5 65.2h0M348.6 67.7h0M386.1 64.9h0M377.8 57.9h0M354.0 54.8h0M350.1 55.7h0M324.4 61.8h0M399.1 64.0h0M400.0 63.9h0M365.4 66.9h0M383.6 66.4h0M357.3 67.7h0M377.4 65.0h0M383.9 59.0h0M370.0 58.4h0M356.6 70.0h0"/>
<path stroke="#bb00a0" d="M274.9 64.7h0M257.7 64.0h0M277.3 64.8h0M324.0 57.0h0M305.4 65.9h0M287.1 65.2h0M287.3 65.4h0M304.3 64.3h0M299.1 59.7h0M280.2 61.4h0"/>
<path stroke="#e00086" d="M313.8 59.6h0M264.8 61.2h0M269.8 63.3h0"/>
<path stroke="#754fd1" d="M333.5 70.4h0"/>
<path stroke="#8443c6" d="M358.6 65.4h0M318.4 60.8h0M354.2 64.7h0M324.6 68.6h0M273.1 63.4h0M370.4 56.6h0M306.7 61.1h0M331.1 55.6h0M291.7 65.5h0M330.1 68.8h0M283.9 65.1h0M319.8 57.6h0M284.7 65.1h0M328.3 63.1h0M313.4 58.3h0"/>
<path stroke="#007cf5" d="M392.1 60.4h0M417.5 62.6h0M362.2 55.2h0M391.4 64.5h0M368.7 61.8h0M331.9 59.4h0M408.9 62.3h0M353.4 66.5h0M393.9 61.9h0M335.1 54.7h0"/>
<path stroke="#e9007c" d="M278.5 64.8h0M259.0 64.1h0M338.0 64.9h0M255.8 61.5h0"/>
<path stroke="#008bfb" d="M349.8 71.9h0M397.7 61.3h0M359.9 70.9h0M372.0 68.5h0M374.9 58.3h0M419.9 62.7h0M325.9 64.4h0M365.9 68.9h0M392.0 65.0h0M396.1 64.3h0M329.7 59.8h0M369.2 56.5h0M360.4 70.5h0M416.7 62.7h0M351.1 56.0h0M364.4 57.5h0M330.5 57.9h0M376.7 62.8h0M359.9 70.6h0M378.0 60.1h0M360.8 62.8h0M350.6 71.4h0M380.9 67.0h0M351.8 64.2h0M356.6 63.3h0M407.3 62.3h0M374.3 68.1h0M362.6 70.2h0M390.2 65.3h0M338.5 55.0h0M305.6 63.9h0M359.0 54.7h0M337.7 71.4h0"/>
<path stroke="#fe005c" d="M196.7 62.6h0M231.1 63.3h0M218.4 62.3h0M256.4 61.4h0M219.9 63.2h0M166.3 62.7h0"/>
<path stroke="#ff0051" d="M171.9 62.7h0M181.5 62.7h0M234.1 62.1h0M243.2 61.9h0M184.7 62.8h0M242.0 63.5h0M241.6 63.5h0M237.6 63.4h0"/>
<path stroke="#f20072" d="M316.7 67.5h0M282.2 64.6h0M325.4 68.8h0M328.3 61.2h0M332.9 68.9h0M264.0 64.2h0"/>
<path stroke="#0074f0" d="M385.5 66.1h0M326.3 68.9h0M387.3 64.1h0M343.5 63.7h0M330.3 55.8h0M364.6 69.8h0"/>
<path stroke="#ab15a7" d="M287.9 60.2h0"/>
<path stroke="#c80098" d="M319.5 59.1h0M312.0 58.4h0M322.2 68.2h0M264.4 62.2h0M298.5 61.2h0M321.9 60.4h0M271.6 64.6h0M271.2 64.5h0M272.4 60.8h0"/>
<path stroke="#e00086" d="M259.4 63.4h0M296.8 64.5h0M310.5 58.6h0"/>
<path stroke="#f90067" d="M222.8 63.2h0M198.3 62.8h0M252.5 63.9h0M211.9 62.8h0M183.1 62.7h0M272.7 62.7h0M323.9 64.1h0"/>
<path stroke="#0084f9" d="M356.2 66.1h0M387.8 65.7h0M362.3 69.8h0M392.7 60.6h0M342.3 63.6h0M338.2 57.5h0M375.7 67.8h0M382.8 66.6h0M391.0 65.2h0M346.6 53.3h0M367.4 57.6h0M387.8 65.7h0M357.9 60.6h0M363.3 60.8h0M392.2 62.3h0M387.0 59.8h0M350.4 61.4h0M360.5 65.0h0M403.3 62.0h0M344.2 66.6h0M339.7 63.4h0M346.2 70.3h0M367.0 68.0h0M414.3 62.5h0M323.8 68.5h0M398.0 62.7h0M340.9 62.9h0M348.6 53.5h0"/>
<path stroke="#9b23ad" d="M354.3 69.9h0M345.6 53.3h0M309.7 61.7h0M354.6 71.5h0M327.0 56.4h0M346.5 65.2h0M278.1 63.9h0"/>
<path stroke="#d5008f" d="M260.4 64.1h0M312.1 67.4h0M319.1 61.0h0M329.2 69.5h0M280.5 60.5h0M310.8 58.5h0M271.3 60.9h0M282.1 65.0h0M267.1 62.0h0"/>
<path stroke="#bb00a0" d="M330.8 65.1h0M293.1 65.5h0M321.6 66.8h0M284.6 60.3h0M269.5 64.5h0M314.3 67.3h0M312.3 64.7h0M296.8 59.8h0"/>
<path stroke="#9135ba" d="M317.0 61.8h0M294.9 63.8h0M309.5 62.8h0M347.8 53.4h0M357.8 71.0h0M302.4 60.1h0M344.4 72.2h0M339.7 69.2h0M306.1 59.0h0M295.2 65.3h0"/>
<path stroke="#007cf5" d="M345.8 72.2h0M363.5 68.1h0M326.6 57.3h0M349.7 54.1h0M382.5 60.4h0M397.0 64.3h0M369.4 63.0h0M405.5 62.2h0M382.6 63.1h0M337.5 69.8h0"/>
<path stroke="#008bfb" d="M371.4 56.8h0M381.8 58.6h0M333.3 58.8h0M380.0 67.1h0M375.1 57.5h0M349.8 56.5h0M388.6 61.4h0M377.4 67.5h0M327.7 61.9h0M406.4 63.2h0M396.8 62.6h0M397.5 63.8h0M351.4 69.3h0M323.1 66.7h0M325.6 56.7h0M366.1 57.6h0M365.2 62.4h0M353.3 69.0h0M331.7 55.4h0M381.8 66.8h0M395.2 64.5h0M356.5 57.8h0M338.6 69.6h0M347.6 64.1h0M328.2 69.2h0M334.7 68.3h0M354.3 59.8h0M326.7 59.7h0M374.3 59.1h0M381.2 64.3h0M412.7 62.8h0M393.9 63.7h0M402.1 63.6h0M348.1 72.0h0M400.3 62.1h0M377.4 63.1h0M370.5 65.6h0"/>
<path stroke="#d5008f" d="M297.6 59.7h0M317.7 57.9h0M283.3 60.4h0M333.4 55.0h0M277.0 61.7h0M291.7 60.0h0M293.0 61.4h0M268.9 61.0h0M276.2 64.7h0"/>
<path stroke="#ff0051" d="M220.6 62.3h0M195.1 62.6h0M255.0 61.5h0M244.5 61.9h0M235.3 63.4h0M227.6 63.3h0M175.1 62.8h0M258.5 64.1h0M230.3 62.1h0M247.9 61.7h0M169.5 62.7h0M250.1 63.8h0M223.7 63.2h0M369.4 67.8h0"/>
<path stroke="#f20072" d="M328.9 68.0h0M282.3 63.2h0M262.9 64.2h0M275.9 61.5h0M253.3 63.9h0M249.3 62.6h0M297.0 60.6h0M313.6 64.6h0M265.3 64.4h0"/>
<path stroke="#8443c6" d="M325.0 56.8h0M357.8 58.2h0M325.6 60.0h0M308.6 58.7h0M364.4 55.7h0M346.3 67.8h0"/>
<path stroke="#0084f9" d="M346.9 60.6h0M398.6 61.4h0M362.9 55.4h0M355.0 54.0h0M367.0 69.4h0M367.1 64.1h0M361.6 55.1h0M378.4 67.4h0M371.0 66.0h0M395.3 62.7h0M359.1 70.8h0M360.4 55.0h0M310.3 65.9h0M398.4 63.7h0M373.9 65.3h0M384.1 63.5h0M401.3 61.8h0M339.7 53.8h0M372.7 57.1h0M381.8 66.7h0"/>
<path stroke="#bb00a0" d="M329.7 64.5h0M263.0 64.4h0M320.5 66.4h0M279.6 60.5h0M254.5 61.5h0M270.2 64.5h0M270.2 61.7h0"/>
<path stroke="#e00086" d="M251.6 62.9h0M271.9 64.9h0"/>
<path stroke="#f90067" d="M328.5 57.0h0M217.6 62.3h0M206.3 62.9h0M222.4 62.2h0M217.7 63.1h0M252.8 61.6h0M164.7 62.7h0M257.8 61.4h0"/>
<path stroke="#0074f0" d="M359.4 68.7h0M351.8 71.8h0"/>
<path stroke="#c80098" d="M261.8 63.3h0M254.9 63.9h0M278.1 60.6h0M300.7 59.5h0M321.5 68.1h0M310.2 66.9h0M314.7 59.4h0M274.2 64.7h0M276.5 64.8h0M297.8 65.3h0M273.6 60.8h0M313.6 61.9h0"/>
<path stroke="#754fd1" d="M356.0 71.3h0"/>
<path stroke="#fe005c" d="M223.3 62.2h0M226.4 63.2h0M225.7 62.2h0M234.3 63.3h0M214.3 62.4h0M239.9 62.0h0M235.8 63.4h0M179.9 62.8h0M240.5 62.0h0M220.1 62.3h0M219.0 63.2h0M232.8 63.3h0"/>
<path stroke="#9b23ad" d="M303.8 59.2h0M262.8 61.2h0M298.9 65.8h0M344.0 68.9h0M334.4 54.8h0M331.2 69.8h0M304.3 59.6h0M298.5 63.4h0M295.9 63.7h0M341.4 54.1h0"/>
<path stroke="#e9007c" d="M251.3 61.6h0M365.3 55.8h0"/>
<path stroke="#9135ba" d="M298.3 65.7h0M333.0 64.4h0M349.3 53.6h0M328.2 65.3h0M330.1 57.6h0M302.6 62.1h0M353.2 59.4h0M305.2 66.4h0M276.8 60.7h0M365.6 61.6h0"/>
<path stroke="#d5008f" d="M322.8 62.4h0M263.7 63.0h0M280.9 62.9h0M323.5 59.6h0M254.3 63.9h0M261.4 64.3h0M290.2 60.6h0M301.6 66.0h0"/>
<path stroke="#ab15a7" d="M275.0 64.1h0M288.5 62.3h0M307.8 61.6h0M269.2 64.6h0M357.0 60.1h0M290.5 60.1h0M330.3 62.6h0M282.2 60.4h0"/>
<path stroke="#0084f9" d="M371.2 68.7h0M390.3 62.0h0M415.9 62.8h0M408.7 63.1h0M408.0 63.1h0M388.1 63.5h0M399.2 61.5h0M377.7 58.0h0M384.0 65.2h0M358.4 54.5h0M362.8 58.5h0M381.3 62.1h0M335.1 64.2h0M334.4 66.1h0M388.5 65.6h0M362.1 67.6h0M364.8 64.9h0M336.6 71.2h0M342.4 71.9h0M406.2 62.3h0M361.2 70.3h0M337.5 67.1h0M378.9 62.4h0M419.1 62.6h0M332.5 70.2h0M366.4 69.5h0"/>
<path stroke="#9b23ad" d="M358.5 70.9h0M336.4 66.2h0M303.9 66.2h0M355.3 71.5h0M312.8 60.1h0"/>
<path stroke="#9135ba" d="M340.8 56.2h0M352.1 58.6h0M300.8 65.9h0M331.2 60.5h0M334.8 62.0h0M322.8 68.4h0M327.7 67.2h0M332.4 67.4h0M294.1 59.9h0M347.6 61.3h0"/>
<path stroke="#008bfb" d="M367.6 61.3h0M374.4 57.3h0M341.7 58.4h0M351.2 61.1h0M378.5 66.8h0M327.1 69.1h0M378.1 58.0h0M372.7 64.3h0M390.4 60.1h0M373.4 61.3h0M356.9 54.3h0M375.7 57.6h0M357.9 69.4h0M338.1 64.4h0M337.5 54.1h0M346.5 53.5h0M353.0 64.2h0M393.8 64.7h0M338.2 67.4h0M358.7 63.0h0M373.5 68.2h0M401.4 63.7h0M346.2 72.1h0M334.2 59.7h0M389.5 60.3h0"/>
<path stroke="#fe005c" d="M245.2 63.6h0M175.9 62.6h0M248.9 61.7h0M246.2 63.6h0M167.9 62.7h0M380.4 61.8h0M267.0 64.4h0M210.3 62.4h0M295.8 59.8h0M335.7 54.5h0M239.9 63.4h0M174.3 62.7h0M163.1 62.7h0"/>
<path stroke="#8443c6" d="M351.8 71.7h0M351.1 53.7h0M320.9 61.4h0M344.7 61.6h0M330.9 62.9h0M315.0 67.3h0M307.6 63.8h0M280.0 64.9h0M270.4 61.0h0"/>
<path stroke="#f20072" d="M263.7 64.3h0M309.8 58.7h0M341.2 53.6h0M256.1 63.5h0M301.4 59.5h0"/>
<path stroke="#236cea" d="M397.4 64.2h0"/>
<path stroke="#e9007c" d="M335.4 57.2h0M359.0 66.5h0"/>
<path stroke="#c80098" d="M306.0 66.5h0M285.8 60.3h0M295.8 65.6h0M274.4 60.8h0M316.9 57.9h0M300.7 63.8h0M307.1 66.5h0M275.5 62.1h0M316.3 67.1h0M281.4 65.0h0M297.7 65.7h0M306.9 66.4h0M279.3 64.9h0M284.0 60.3h0M294.0 65.6h0"/>
<path stroke="#754fd1" d="M350.2 53.6h0"/>
<path stroke="#bb00a0" d="M263.6 61.2h0M311.3 66.2h0M320.9 64.0h0M261.4 64.2h0"/>
<path stroke="#0074f0" d="M353.7 61.7h0M398.0 64.1h0"/>
<path stroke="#007cf5" d="M327.7 64.9h0M359.1 56.8h0M375.9 65.5h0M389.9 64.2h0M380.6 64.3h0M332.7 55.2h0M410.3 62.8h0M340.1 58.5h0M344.3 70.8h0M359.9 54.8h0M393.4 60.7h0"/>
<path stroke="#ff0051" d="M411.9 62.7h0M179.1 62.8h0M195.9 62.7h0M274.3 61.5h0M203.9 62.6h0M233.6 63.3h0M221.6 63.2h0M229.7 63.3h0M182.3 62.8h0M204.7 62.6h0M247.9 63.7h0M245.0 63.6h0M254.5 62.5h0M216.8 63.1h0"/>
<path stroke="#e00086" d="M317.3 63.1h0M265.6 61.1h0M339.4 56.2h0M288.5 65.3h0"/>
<path stroke="#f90067" d="M285.5 65.2h0M342.4 66.0h0M251.0 63.8h0M243.8 61.9h0M309.6 63.9h0M191.1 62.6h0M238.6 62.0h0M259.2 62.3h0"/>
<path stroke="#ff0058" d="M157.5 62.7h0"/>
<path stroke="#e00086" d="M368.1 89.1h0"/>
<path stroke="#f90067" d="M389.5 89.9h0"/>
<path stroke="#bb00a0" d="M367.1 86.6h0M351.6 86.0h0"/>
<path stroke="#8443c6" d="M344.1 97.8h0M345.5 94.2h0M361.0 89.3h0M345.3 80.9h0M362.3 85.5h0M368.9 87.2h0M323.7 88.1h0M350.9 84.1h0M341.0 88.8h0"/>
<path stroke="#9b23ad" d="M341.6 98.7h0M350.3 93.2h0M341.5 81.8h0M338.8 84.2h0"/>
<path stroke="#d5008f" d="M349.9 98.3h0"/>
<path stroke="#fe005c" d="M348.9 95.5h0"/>
<path stroke="#ab15a7" d="M354.3 81.8h0M360.8 87.1h0M362.3 95.0h0"/>
<path stroke="#0084f9" d="M313.2 87.0h0M312.1 92.5h0M317.4 84.5h0M308.7 93.6h0M304.0 92.8h0M322.4 96.2h0M324.1 96.4h0M300.6 92.4h0M288.9 89.4h0M298.0 92.1h0M316.4 84.7h0M318.2 84.4h0M292.7 89.6h0M306.5 93.1h0M304.5 92.9h0M305.6 89.2h0M313.6 85.3h0"/>
<path stroke="#6359da" d="M328.6 90.8h0M348.9 81.3h0M327.1 97.0h0M328.9 93.5h0M345.0 81.7h0"/>
<path stroke="#4b63e3" d="M327.8 82.6h0"/>
<path stroke="#0074f0" d="M270.3 89.7h0"/>
<path stroke="#f20072" d="M383.9 89.5h0M376.0 90.3h0"/>
<path stroke="#754fd1" d="M344.6 84.5h0M346.8 94.9h0"/>
<path stroke="#e9007c" d="M357.7 82.9h0M377.7 90.9h0"/>
<path stroke="#007cf5" d="M326.6 96.9h0M299.0 87.6h0M285.3 90.7h0M311.2 94.0h0M326.3 90.4h0M331.3 95.8h0M295.2 88.0h0M307.4 86.5h0M316.5 95.1h0M298.1 87.6h0M286.0 91.0h0M314.0 89.7h0M325.4 92.2h0"/>
<path stroke="#008bfb" d="M309.6 86.0h0M287.0 88.7h0M336.7 91.3h0M293.4 88.2h0M281.6 90.6h0M292.2 88.3h0M288.9 88.6h0M281.0 89.2h0M294.4 88.1h0M297.9 88.8h0M325.5 95.0h0M333.8 81.8h0M291.2 88.4h0M301.4 92.5h0M321.4 96.0h0M283.4 89.0h0M317.8 95.3h0M322.5 93.9h0M299.4 88.5h0M313.4 94.5h0M316.3 85.0h0M317.9 86.7h0M278.5 90.4h0M296.0 87.9h0M309.5 93.7h0M334.5 81.7h0"/>
<path stroke="#c80098" d="M354.1 98.0h0M354.2 92.8h0M377.7 88.9h0M350.2 91.3h0M354.3 90.7h0M357.9 90.3h0M375.9 88.7h0"/>
<path stroke="#9135ba" d="M355.4 97.3h0M358.3 96.6h0M342.8 85.4h0M361.6 84.4h0M360.1 83.8h0"/>
<path stroke="#9135ba" d="M332.3 88.8h0M348.3 97.8h0M334.5 98.1h0M382.1 89.4h0M346.6 89.9h0M356.6 84.6h0M351.3 88.7h0M344.6 98.9h0"/>
<path stroke="#008bfb" d="M314.1 94.7h0M333.2 86.7h0M326.8 82.8h0M310.5 88.7h0M289.9 88.8h0M314.9 85.0h0M288.8 91.2h0M323.4 91.2h0M288.1 88.6h0M277.7 90.3h0M299.3 92.2h0M303.5 89.7h0M310.4 86.6h0M319.9 84.1h0M312.0 85.6h0M278.3 89.4h0M291.1 91.4h0M327.4 90.2h0M300.4 87.4h0M275.9 90.2h0M261.5 89.9h0M330.5 84.7h0M304.5 91.9h0M267.9 89.9h0"/>
<path stroke="#007cf5" d="M314.9 94.8h0M318.0 89.2h0M336.7 89.4h0M327.6 83.0h0M329.5 94.3h0M293.9 90.7h0"/>
<path stroke="#9b23ad" d="M341.1 97.3h0"/>
<path stroke="#0084f9" d="M300.9 90.9h0M314.1 87.5h0M315.8 90.7h0M307.4 93.3h0M300.4 89.9h0M326.6 92.5h0M315.1 93.0h0M307.9 86.3h0M293.5 91.6h0M289.6 88.5h0M290.9 90.5h0M306.1 88.4h0M302.4 87.2h0M341.9 90.1h0M330.9 82.1h0M318.4 95.4h0M338.0 81.3h0M296.9 92.0h0"/>
<path stroke="#c80098" d="M369.1 92.4h0M352.7 81.7h0M357.8 96.9h0M378.2 89.0h0M355.2 88.5h0M365.5 91.9h0M381.6 90.4h0M354.6 95.6h0M382.9 90.3h0M358.6 83.2h0"/>
<path stroke="#0074f0" d="M322.5 88.3h0M319.9 95.7h0"/>
<path stroke="#e00086" d="M372.9 91.6h0"/>
<path stroke="#e9007c" d="M381.7 89.3h0M387.1 90.0h0M371.0 87.8h0"/>
<path stroke="#4b63e3" d="M342.5 81.1h0M346.6 81.0h0"/>
<path stroke="#fe005c" d="M361.6 95.3h0"/>
<path stroke="#8443c6" d="M348.0 84.9h0M364.3 88.8h0M335.5 87.3h0"/>
<path stroke="#6359da" d="M353.9 91.8h0M331.2 97.3h0M356.7 92.7h0"/>
<path stroke="#bb00a0" d="M391.9 89.8h0M365.7 87.6h0M357.7 88.2h0"/>
<path stroke="#d5008f" d="M349.3 81.3h0"/>
<path stroke="#f20072" d="M371.6 89.2h0M359.2 83.5h0"/>
<path stroke="#f90067" d="M395.1 89.9h0M376.4 88.8h0M356.6 87.4h0M364.5 85.7h0"/>
<path stroke="#ab15a7" d="M392.7 89.9h0"/>
<path stroke="#236cea" d="M278.8 90.5h0M346.3 97.9h0"/>
<path stroke="#754fd1" d="M354.8 81.9h0M325.4 96.7h0M332.5 81.9h0M339.1 86.6h0M335.4 98.2h0M341.8 95.0h0M326.0 82.9h0"/>
<path stroke="#c80098" d="M374.9 91.2h0M370.0 87.7h0M373.8 90.1h0M344.0 92.1h0M353.6 98.0h0M346.1 96.7h0M390.3 90.1h0"/>
<path stroke="#754fd1" d="M330.5 89.3h0"/>
<path stroke="#fe005c" d="M370.5 92.1h0M355.6 94.4h0M362.9 85.1h0M363.5 90.7h0"/>
<path stroke="#008bfb" d="M334.1 84.0h0M317.2 86.9h0M313.9 91.8h0M310.1 93.9h0M313.4 89.4h0M329.4 97.5h0M315.8 84.8h0M320.5 95.8h0M296.2 91.0h0M301.3 87.3h0M335.5 89.9h0M324.6 83.2h0M323.3 83.5h0M317.2 84.8h0M292.7 91.5h0M316.6 93.2h0"/>
<path stroke="#007cf5" d="M262.3 89.9h0M269.5 89.8h0M337.4 81.4h0M292.6 88.3h0M336.1 96.1h0M320.8 92.4h0M337.6 89.6h0M344.3 89.8h0M281.3 89.1h0"/>
<path stroke="#ab15a7" d="M359.7 96.0h0M346.1 98.8h0"/>
<path stroke="#6359da" d="M329.8 87.1h0M326.5 88.2h0M340.5 81.2h0"/>
<path stroke="#9b23ad" d="M343.9 98.8h0"/>
<path stroke="#8443c6" d="M374.5 88.5h0M344.4 95.0h0M360.0 89.1h0M340.1 98.6h0"/>
<path stroke="#236cea" d="M325.1 87.9h0M332.9 93.6h0"/>
<path stroke="#e9007c" d="M357.3 83.5h0M352.4 98.1h0M379.1 89.1h0"/>
<path stroke="#4b63e3" d="M345.5 91.5h0M338.6 88.9h0M339.9 81.2h0"/>
<path stroke="#f20072" d="M351.9 81.6h0M339.8 91.7h0M382.9 89.4h0M387.9 90.1h0"/>
<path stroke="#bb00a0" d="M358.2 91.1h0M362.9 94.7h0M356.8 82.6h0M379.9 89.2h0M352.4 88.1h0M371.2 91.9h0M348.2 92.5h0"/>
<path stroke="#e00086" d="M359.8 83.9h0M364.6 94.1h0"/>
<path stroke="#9135ba" d="M340.3 84.1h0M334.5 93.2h0M343.1 92.9h0M327.1 93.1h0M353.7 96.5h0M337.2 97.0h0M361.7 93.2h0M333.4 90.9h0M366.5 88.3h0M386.3 89.8h0M348.2 98.6h0M344.8 80.9h0"/>
<path stroke="#d5008f" d="M358.8 88.2h0M379.2 90.7h0M363.6 93.1h0M360.6 95.7h0"/>
<path stroke="#0084f9" d="M264.7 89.9h0M309.4 91.7h0M300.9 87.9h0M304.2 87.0h0M328.5 95.9h0M334.4 97.7h0M310.0 85.9h0M283.8 90.8h0M343.0 87.7h0M287.2 91.1h0M335.9 98.3h0M309.5 86.5h0M314.4 85.1h0M320.7 95.0h0M280.1 90.5h0M342.3 87.4h0M282.2 90.7h0"/>
<path stroke="#ff0051" d="M346.2 84.3h0"/>
<path stroke="#0074f0" d="M294.5 91.7h0"/>
<path stroke="#d5008f" d="M349.2 88.2h0M371.9 91.4h0M365.4 93.8h0M360.6 84.6h0M363.9 94.4h0M365.3 90.0h0M352.6 83.8h0M366.0 90.3h0M365.9 92.7h0M367.3 91.1h0"/>
<path stroke="#f20072" d="M347.3 92.8h0M354.2 85.9h0M366.9 93.2h0M358.4 93.3h0"/>
<path stroke="#9135ba" d="M363.0 92.9h0M340.1 86.5h0M384.7 90.1h0M347.2 85.3h0M364.7 94.2h0M376.2 91.1h0M344.7 82.4h0M348.3 94.7h0"/>
<path stroke="#e9007c" d="M373.5 89.3h0"/>
<path stroke="#008bfb" d="M280.8 90.6h0M305.4 86.8h0M315.0 94.1h0M327.5 86.0h0M343.0 82.5h0M295.5 89.0h0M305.4 93.0h0M268.7 89.9h0M284.0 88.9h0M297.4 87.7h0M321.7 85.8h0M290.3 88.4h0M306.5 86.6h0M331.0 97.7h0M338.6 91.9h0M332.7 90.8h0M320.1 87.4h0M316.3 87.5h0M336.0 81.5h0M310.9 90.1h0M312.2 86.0h0M279.9 89.3h0M311.2 85.7h0"/>
<path stroke="#8443c6" d="M331.5 93.1h0M381.0 89.2h0M335.9 81.9h0M347.6 87.4h0M351.1 98.3h0M350.2 86.6h0"/>
<path stroke="#4b63e3" d="M343.0 98.8h0M339.0 81.3h0M353.2 87.5h0M330.7 86.2h0"/>
<path stroke="#ab15a7" d="M347.1 81.1h0"/>
<path stroke="#6359da" d="M347.2 82.5h0M336.9 81.4h0"/>
<path stroke="#fe005c" d="M344.1 87.5h0"/>
<path stroke="#f90067" d="M369.6 87.5h0M371.9 88.0h0M366.1 93.5h0"/>
<path stroke="#ff0051" d="M349.0 86.0h0"/>
<path stroke="#9b23ad" d="M337.5 98.4h0M331.8 82.0h0M360.6 84.1h0"/>
<path stroke="#754fd1" d="M332.5 95.8h0M339.7 81.7h0M368.1 86.9h0"/>
<path stroke="#bb00a0" d="M372.6 88.2h0M368.5 92.6h0"/>
<path stroke="#c80098" d="M381.0 90.5h0M358.3 86.5h0"/>
<path stroke="#007cf5" d="M265.5 90.0h0M296.7 87.8h0M321.8 83.8h0M303.0 89.5h0M273.5 90.0h0M297.3 92.0h0M263.1 89.9h0"/>
<path stroke="#0084f9" d="M271.1 90.0h0M294.5 91.4h0M336.5 87.1h0M321.1 85.4h0M279.0 89.3h0M299.6 87.5h0M325.6 83.0h0M324.3 83.2h0M305.0 86.9h0M335.0 96.8h0M312.6 91.9h0M263.9 89.9h0M332.2 84.5h0M319.3 85.2h0M307.4 93.5h0M322.5 90.9h0M325.7 83.3h0M311.9 94.2h0M316.4 90.9h0M298.4 90.6h0M339.1 98.5h0"/>
<path stroke="#8443c6" d="M351.4 96.1h0M342.4 98.7h0M335.5 83.3h0M341.4 84.7h0M359.6 93.6h0"/>
<path stroke="#0074f0" d="M267.1 90.0h0M306.2 90.4h0"/>
<path stroke="#bb00a0" d="M363.7 85.4h0M351.3 81.5h0M373.3 91.6h0M369.7 92.3h0M359.4 91.1h0M394.3 89.9h0M393.5 89.9h0M376.6 91.0h0"/>
<path stroke="#f90067" d="M346.9 87.4h0M353.1 84.6h0"/>
<path stroke="#c80098" d="M373.7 91.5h0M375.2 88.6h0M362.2 87.7h0M367.7 92.9h0M382.3 90.4h0M352.0 93.4h0M351.9 90.4h0"/>
<path stroke="#d5008f" d="M356.7 97.2h0M365.6 86.0h0"/>
<path stroke="#f20072" d="M374.4 91.3h0"/>
<path stroke="#9135ba" d="M331.6 84.1h0M350.7 81.2h0M349.4 98.4h0M343.7 81.0h0M359.4 96.3h0M333.9 95.1h0"/>
<path stroke="#008bfb" d="M335.3 81.6h0M307.6 91.0h0M302.3 87.9h0M318.4 84.3h0M302.9 92.7h0M323.3 96.3h0M299.6 87.4h0M312.5 94.4h0M329.3 83.7h0M320.0 94.4h0M266.3 89.9h0M290.1 91.3h0M286.1 88.8h0M323.6 96.5h0M291.7 91.5h0M340.0 93.8h0M332.2 97.8h0M333.6 86.0h0M274.3 90.1h0M319.6 90.1h0M331.4 88.4h0M337.6 87.4h0M323.8 83.3h0M275.1 89.9h0M291.5 88.8h0M322.4 83.6h0"/>
<path stroke="#754fd1" d="M355.9 97.5h0M348.5 98.5h0M328.6 97.3h0M328.6 86.5h0M354.2 97.7h0"/>
<path stroke="#9b23ad" d="M356.7 95.3h0M333.1 82.1h0"/>
<path stroke="#4b63e3" d="M350.5 98.4h0M339.0 96.8h0M342.4 95.1h0M343.2 81.0h0M340.2 96.7h0M333.3 88.7h0M346.2 89.4h0"/>
<path stroke="#6359da" d="M336.8 98.4h0M337.0 84.1h0"/>
<path stroke="#e9007c" d="M367.4 87.5h0M352.9 98.1h0M388.7 90.1h0M374.3 88.5h0"/>
<path stroke="#0084f9" d="M311.4 89.8h0M287.9 91.1h0M320.6 90.3h0M329.6 82.3h0M341.5 81.1h0M303.5 87.7h0M307.8 93.4h0M318.2 93.2h0M295.1 91.8h0M272.7 89.8h0M318.0 90.7h0M327.5 88.2h0M282.0 89.1h0M317.6 89.4h0M341.3 92.1h0M340.5 81.3h0M324.6 90.3h0M345.3 98.8h0M338.2 84.6h0"/>
<path stroke="#007cf5" d="M337.8 91.9h0M335.1 92.2h0M303.3 91.6h0M282.9 90.8h0M330.6 97.6h0"/>
<path stroke="#d5008f" d="M370.1 90.6h0M385.5 90.0h0"/>
<path stroke="#e9007c" d="M355.7 82.2h0M366.2 86.3h0"/>
<path stroke="#4b63e3" d="M324.8 96.6h0M335.1 85.2h0M330.3 82.2h0"/>
<path stroke="#9b23ad" d="M347.6 90.1h0M359.1 84.1h0M329.3 97.5h0M357.8 85.7h0"/>
<path stroke="#bb00a0" d="M378.1 90.8h0M384.2 90.3h0M351.7 95.7h0M373.4 88.3h0"/>
<path stroke="#ab15a7" d="M353.1 82.5h0"/>
<path stroke="#f20072" d="M379.8 90.6h0"/>
<path stroke="#0074f0" d="M307.4 88.8h0M296.1 89.1h0"/>
<path stroke="#6359da" d="M350.4 81.4h0M343.2 97.3h0M355.1 97.9h0M337.9 94.5h0"/>
<path stroke="#e00086" d="M370.4 88.5h0M391.1 89.7h0"/>
<path stroke="#007cf5" d="M292.4 91.5h0M320.5 83.9h0M312.7 94.2h0M323.2 86.0h0M319.1 84.2h0M328.6 88.6h0M331.2 91.1h0M338.5 93.7h0M276.7 89.7h0M296.1 91.9h0M336.8 94.4h0M285.8 88.8h0M287.1 90.8h0M309.3 89.2h0"/>
<path stroke="#0084f9" d="M285.3 91.0h0M327.9 97.2h0M311.9 88.0h0M293.2 88.7h0M319.0 95.5h0M310.7 92.6h0M305.4 90.9h0M312.5 85.4h0M308.5 86.2h0"/>
<path stroke="#ff0051" d="M347.3 98.7h0"/>
<path stroke="#8443c6" d="M350.0 83.0h0M325.7 86.1h0M351.9 98.2h0M322.2 96.1h0"/>
<path stroke="#9135ba" d="M354.7 84.0h0M353.6 94.5h0M353.7 81.7h0M338.1 82.0h0M362.4 84.8h0"/>
<path stroke="#c80098" d="M347.7 81.2h0M359.3 86.1h0M371.6 91.8h0M349.2 92.6h0M358.4 95.0h0M348.4 82.5h0M369.5 90.2h0M349.3 90.6h0"/>
<path stroke="#f90067" d="M376.3 89.2h0M356.5 91.9h0M355.4 89.7h0M362.5 90.2h0M364.0 86.1h0M360.8 91.5h0"/>
<path stroke="#fe005c" d="M353.9 89.9h0"/>
<path stroke="#008bfb" d="M304.5 86.9h0M328.0 95.6h0M289.3 90.8h0M271.9 89.9h0M328.7 82.5h0M332.5 97.9h0M289.2 91.3h0M284.4 90.9h0M321.3 88.2h0M330.3 92.4h0M325.3 94.4h0M324.2 93.6h0M303.2 87.1h0M340.4 98.6h0M277.2 89.4h0M302.5 92.6h0M335.5 95.0h0M319.1 92.5h0M284.7 88.9h0M306.4 93.2h0M338.2 98.5h0M316.0 95.0h0M299.9 92.3h0M297.7 90.8h0"/>
<path stroke="#754fd1" d="M345.9 86.6h0M368.9 88.8h0M324.2 85.2h0M343.2 89.8h0"/>
<path stroke="#236cea" d="M333.3 98.0h0"/>
<path stroke="#0086fa" d="M257.2 89.9h0"/>
<path stroke="#9135ba" d="M343.4 123.3h0M376.5 116.4h0M356.3 112.4h0M333.4 124.7h0M329.2 114.2h0M361.8 119.8h0M367.6 115.5h0M307.7 118.6h0M346.4 120.6h0M357.7 117.9h0M336.0 124.9h0M304.2 116.5h0"/>
<path stroke="#0084f9" d="M375.8 116.3h0M337.2 117.4h0M373.8 116.3h0M309.2 118.0h0M351.0 113.9h0M380.6 117.6h0M318.0 110.9h0M420.4 117.1h0M377.1 117.7h0M350.8 123.6h0M349.4 110.0h0M347.0 118.1h0M308.1 114.1h0M332.1 124.1h0M279.6 117.1h0"/>
<path stroke="#ab15a7" d="M323.1 120.7h0"/>
<path stroke="#007cf5" d="M394.8 117.1h0M339.2 118.5h0M430.0 117.1h0M427.6 117.0h0M309.7 120.7h0M310.9 119.4h0M351.6 110.8h0M414.0 117.1h0"/>
<path stroke="#f90067" d="M358.3 114.5h0M343.0 120.1h0M332.0 116.9h0M334.2 109.7h0M274.0 117.0h0"/>
<path stroke="#e9007c" d="M363.9 115.0h0M352.5 121.4h0M353.3 115.9h0M374.1 117.9h0M348.1 122.8h0M306.1 119.1h0M347.4 120.2h0M329.3 125.6h0"/>
<path stroke="#008bfb" d="M339.8 109.6h0M344.1 122.3h0M331.0 125.9h0M416.4 117.1h0M426.0 117.0h0M408.4 117.2h0M380.2 116.6h0M318.8 117.7h0M414.8 117.0h0M350.4 111.2h0M406.0 117.1h0M410.0 117.1h0M336.6 114.8h0M378.8 117.6h0M423.6 117.0h0"/>
<path stroke="#9b23ad" d="M431.6 117.1h0M316.9 123.0h0M307.5 120.2h0M319.1 112.9h0M334.0 112.2h0M313.4 112.3h0M327.4 108.8h0M329.7 117.8h0M276.4 117.0h0M357.7 121.2h0M319.9 123.7h0"/>
<path stroke="#ff0051" d="M277.2 117.2h0M281.2 117.1h0M294.2 118.1h0M273.2 117.1h0"/>
<path stroke="#8443c6" d="M275.6 117.2h0M367.5 116.2h0M364.6 114.8h0M345.1 125.5h0M355.7 122.0h0M309.9 113.3h0M326.6 120.1h0M384.7 116.6h0M340.1 109.0h0"/>
<path stroke="#fe005c" d="M324.4 124.7h0"/>
<path stroke="#f20072" d="M320.2 123.9h0M320.5 114.6h0M314.0 122.0h0M382.7 117.5h0M353.4 119.8h0M334.8 126.3h0M351.6 121.6h0M302.2 115.0h0M318.2 120.6h0M350.2 115.3h0M338.9 114.6h0"/>
<path stroke="#754fd1" d="M316.1 119.1h0"/>
<path stroke="#f90067" d="M338.0 126.2h0M361.1 118.6h0M320.9 110.6h0M337.2 121.5h0M345.1 111.8h0M358.9 120.9h0M336.6 126.3h0"/>
<path stroke="#9b23ad" d="M340.6 126.2h0M329.9 115.3h0M337.2 126.2h0M288.9 117.5h0M266.8 117.1h0M361.8 116.4h0M334.1 107.8h0M308.6 113.7h0"/>
<path stroke="#9135ba" d="M299.2 117.6h0M339.4 107.9h0M312.2 112.6h0M365.4 117.7h0M367.5 118.6h0M347.4 122.5h0M297.2 118.5h0M278.8 116.9h0M383.0 116.6h0"/>
<path stroke="#fe005c" d="M287.6 116.9h0M288.3 116.6h0M280.4 117.2h0M297.7 118.6h0M294.7 116.3h0M270.0 117.1h0"/>
<path stroke="#e9007c" d="M356.5 120.2h0M352.3 111.5h0M352.5 118.7h0M310.5 115.7h0M360.1 117.3h0M301.0 119.0h0"/>
<path stroke="#007cf5" d="M325.5 117.1h0M398.0 117.2h0M311.5 121.3h0M343.7 125.7h0M387.6 117.3h0"/>
<path stroke="#f20072" d="M299.1 115.5h0M335.3 120.2h0M311.5 115.0h0M327.1 113.3h0M354.7 122.3h0M330.1 108.3h0M358.4 120.1h0M354.2 111.6h0M366.1 116.4h0M350.0 110.3h0M317.7 121.7h0M362.4 115.0h0M312.8 117.7h0"/>
<path stroke="#ab15a7" d="M322.6 124.4h0"/>
<path stroke="#ff0051" d="M278.0 117.0h0M311.8 112.8h0M302.7 114.9h0"/>
<path stroke="#754fd1" d="M324.0 116.7h0"/>
<path stroke="#e00086" d="M375.5 117.8h0"/>
<path stroke="#008bfb" d="M322.5 111.0h0M379.5 116.5h0M432.4 117.1h0M328.2 125.5h0M413.2 117.1h0M321.1 110.1h0M434.8 117.1h0M318.5 115.1h0M433.2 117.1h0M313.2 119.8h0M330.0 113.0h0M379.4 117.6h0M338.8 116.3h0"/>
<path stroke="#0084f9" d="M402.8 117.0h0M345.5 125.3h0M399.6 117.0h0M407.6 117.1h0M348.4 124.4h0M319.6 124.0h0M428.4 117.1h0M352.1 116.5h0M383.8 117.5h0M386.8 117.3h0M317.5 114.6h0M381.4 116.6h0M326.6 108.9h0"/>
<path stroke="#8443c6" d="M336.7 124.1h0M341.8 120.7h0M346.9 109.7h0M296.8 117.7h0M322.8 122.7h0M316.0 116.7h0M366.9 118.8h0M293.1 118.0h0M369.3 117.5h0M356.8 113.0h0M332.3 107.9h0M301.5 115.1h0M270.8 117.0h0M324.5 109.4h0"/>
<path stroke="#0074f0" d="M307.5 120.2h0"/>
<path stroke="#f20072" d="M360.5 113.8h0M319.6 112.8h0M348.6 115.8h0M334.6 107.8h0M361.8 114.8h0M345.4 108.6h0M326.3 122.8h0M319.6 117.3h0M307.3 115.9h0"/>
<path stroke="#8443c6" d="M389.2 116.9h0M313.3 121.8h0M353.5 121.9h0M328.4 118.9h0M363.5 119.5h0M332.7 110.9h0M324.4 123.8h0"/>
<path stroke="#ff0051" d="M283.6 117.2h0"/>
<path stroke="#e9007c" d="M370.1 116.1h0M358.8 117.2h0M297.2 115.7h0M330.7 120.3h0M357.5 119.9h0M349.8 113.6h0M357.2 112.6h0"/>
<path stroke="#9135ba" d="M335.1 113.1h0M323.0 115.6h0M306.8 120.0h0M337.7 122.3h0M337.4 112.4h0M293.2 116.2h0M339.3 123.3h0M377.2 116.4h0M331.8 119.4h0M342.4 115.9h0M333.1 113.1h0M357.4 121.5h0"/>
<path stroke="#ab15a7" d="M377.8 116.5h0M310.2 120.8h0M341.5 123.3h0M359.5 113.5h0"/>
<path stroke="#007cf5" d="M365.0 119.1h0M327.5 123.1h0M313.5 112.6h0M333.6 116.3h0M341.6 113.6h0"/>
<path stroke="#f90067" d="M350.6 116.8h0M350.8 111.3h0M302.0 115.7h0M290.2 117.6h0M269.2 117.1h0M325.9 115.3h0M288.5 117.5h0M306.2 114.3h0M331.3 126.1h0M368.7 115.7h0"/>
<path stroke="#fe005c" d="M299.8 115.4h0M285.2 116.8h0M306.0 119.8h0M290.6 116.5h0"/>
<path stroke="#9b23ad" d="M349.1 118.0h0M311.7 117.2h0M343.7 125.3h0M348.9 110.5h0M354.2 122.5h0M317.5 112.2h0"/>
<path stroke="#0084f9" d="M321.8 124.2h0M341.2 116.6h0M426.8 117.1h0M313.6 115.7h0M361.2 120.1h0M304.0 118.9h0M326.5 113.6h0M398.8 116.9h0M329.1 109.5h0M332.2 126.2h0M346.8 112.7h0"/>
<path stroke="#008bfb" d="M347.7 109.5h0M331.2 114.3h0M323.9 114.4h0M382.0 116.6h0M335.4 107.8h0M390.8 117.1h0M418.8 117.1h0M405.2 117.0h0M319.9 121.1h0M394.0 117.3h0M434.0 117.1h0M411.6 117.1h0M386.0 116.9h0M388.4 116.9h0M404.4 117.1h0M402.0 117.2h0M323.4 111.5h0M332.5 120.0h0M330.0 125.8h0M333.4 108.8h0"/>
<path stroke="#0074f0" d="M305.2 114.5h0M303.3 119.4h0M324.9 120.0h0"/>
<path stroke="#e00086" d="M357.5 113.4h0M369.3 118.2h0"/>
<path stroke="#754fd1" d="M338.8 107.9h0"/>
<path stroke="#8443c6" d="M310.7 121.1h0M341.1 126.1h0M362.4 117.3h0M327.6 111.5h0M316.5 121.2h0M321.6 120.1h0M314.5 111.8h0M373.0 116.2h0M299.2 116.2h0M341.3 124.4h0"/>
<path stroke="#fe005c" d="M294.7 116.0h0M317.9 119.1h0M267.6 117.1h0"/>
<path stroke="#0074f0" d="M320.7 110.3h0M345.5 117.9h0"/>
<path stroke="#9135ba" d="M347.8 124.6h0M345.3 110.8h0M336.5 108.2h0M332.7 117.8h0M362.6 114.5h0M341.6 111.0h0M319.0 110.6h0M321.2 117.6h0M325.0 109.2h0M282.0 117.2h0M325.5 124.9h0M298.1 115.6h0M327.2 125.2h0M424.4 117.0h0M315.6 114.4h0"/>
<path stroke="#ff0051" d="M295.4 118.3h0M286.8 117.3h0M268.4 117.1h0M291.7 117.8h0"/>
<path stroke="#f20072" d="M354.2 113.0h0M349.8 122.0h0M314.9 122.3h0M305.4 116.9h0M344.8 114.8h0M332.1 108.5h0M368.6 117.6h0M341.3 108.1h0"/>
<path stroke="#008bfb" d="M337.4 107.9h0M306.6 114.1h0M324.6 124.2h0M324.9 111.0h0M294.1 116.1h0M323.5 124.5h0M298.2 116.4h0M378.9 116.5h0M343.4 117.6h0M355.7 112.1h0M339.5 126.2h0M373.4 117.9h0M326.2 125.1h0M344.0 117.1h0"/>
<path stroke="#e00086" d="M364.2 119.3h0M309.2 120.6h0M361.4 114.0h0"/>
<path stroke="#0084f9" d="M344.4 108.5h0M323.0 112.9h0M342.2 108.2h0M401.2 117.0h0M352.5 123.0h0M357.2 115.1h0M346.8 115.1h0M376.7 117.7h0"/>
<path stroke="#9b23ad" d="M346.6 109.2h0M339.6 120.9h0M329.5 121.8h0M266.0 117.1h0M320.9 112.8h0M342.1 125.9h0M326.2 124.6h0M329.0 111.7h0M310.6 113.5h0M328.0 117.8h0"/>
<path stroke="#e9007c" d="M312.4 121.5h0M333.5 126.3h0M349.9 123.8h0M305.1 115.3h0M353.1 111.3h0M368.2 118.4h0M355.2 118.9h0"/>
<path stroke="#f90067" d="M344.2 125.6h0M292.4 116.3h0M312.4 119.7h0M366.6 115.4h0M326.9 125.2h0M314.9 113.4h0M370.9 116.1h0M349.3 124.1h0M355.3 116.3h0"/>
<path stroke="#007cf5" d="M360.6 119.6h0M328.6 108.6h0M417.2 117.1h0M410.8 117.0h0"/>
<path stroke="#ab15a7" d="M325.9 118.3h0M422.0 117.0h0M297.0 116.3h0"/>
<path stroke="#f20072" d="M302.5 116.2h0M341.2 119.4h0M352.0 114.4h0M360.4 120.4h0M378.1 117.7h0M344.7 124.1h0M326.0 109.1h0M356.8 115.6h0M297.5 117.5h0M323.1 118.3h0M325.1 113.0h0M358.7 113.2h0M342.7 110.8h0"/>
<path stroke="#fe005c" d="M290.9 117.7h0M302.6 119.2h0M298.8 118.7h0M282.8 117.0h0"/>
<path stroke="#9b23ad" d="M372.2 117.9h0M316.4 111.4h0M351.1 110.6h0M346.3 125.2h0M317.0 116.9h0M321.3 114.8h0M291.3 116.4h0M330.2 125.4h0"/>
<path stroke="#008bfb" d="M396.4 117.1h0M384.5 117.5h0M418.0 117.0h0M304.4 119.5h0M331.0 108.2h0M338.1 110.6h0M397.2 117.1h0M329.2 108.5h0M395.6 117.2h0M406.8 117.0h0"/>
<path stroke="#ff0051" d="M295.7 115.9h0M271.6 117.1h0M294.8 118.2h0M296.6 115.8h0"/>
<path stroke="#0084f9" d="M334.0 123.5h0M419.6 117.1h0M341.9 108.7h0M331.8 108.1h0M385.5 117.5h0M400.4 117.2h0M356.3 121.8h0M333.9 114.2h0M415.6 117.1h0M328.1 120.5h0M316.2 122.8h0M320.5 119.4h0M340.8 111.2h0M383.7 116.6h0"/>
<path stroke="#6359da" d="M284.4 117.1h0"/>
<path stroke="#9135ba" d="M286.0 117.1h0M359.9 115.5h0M304.2 114.6h0M409.2 117.0h0M369.8 118.1h0M338.0 112.9h0M341.0 113.8h0M301.7 117.4h0M274.8 117.0h0M346.7 124.9h0M371.3 116.1h0M338.1 108.7h0M316.6 111.9h0M323.4 109.6h0M365.1 115.0h0"/>
<path stroke="#e9007c" d="M302.9 118.1h0M355.9 117.5h0M310.9 113.1h0M355.2 121.1h0M346.0 108.9h0M323.8 119.3h0M359.8 120.6h0M345.4 115.3h0M315.7 122.5h0"/>
<path stroke="#f90067" d="M353.0 122.8h0M321.5 124.0h0M336.2 119.2h0M340.8 122.1h0M308.5 116.7h0M328.5 123.7h0M333.2 115.5h0M349.4 120.2h0M351.7 123.3h0M375.0 117.8h0M333.0 122.9h0"/>
<path stroke="#0074f0" d="M421.2 117.1h0"/>
<path stroke="#007cf5" d="M344.2 119.1h0M429.2 117.1h0M358.2 112.9h0M392.4 117.3h0M393.2 116.8h0"/>
<path stroke="#754fd1" d="M305.3 119.6h0"/>
<path stroke="#8443c6" d="M335.7 108.5h0M333.5 107.8h0M324.0 121.3h0M338.0 117.3h0"/>
<path stroke="#ab15a7" d="M384.9 116.7h0"/>
<path stroke="#8443c6" d="M333.8 125.4h0M348.4 109.8h0M317.9 123.3h0M351.5 119.0h0M335.7 110.8h0M329.5 116.6h0M272.4 117.0h0"/>
<path stroke="#f20072" d="M315.8 111.6h0M300.4 115.2h0M331.5 111.7h0M338.5 119.6h0M300.4 118.9h0M363.6 117.3h0"/>
<path stroke="#ab15a7" d="M338.4 124.2h0M308.7 120.4h0M324.9 121.7h0M342.3 118.2h0M321.0 121.7h0"/>
<path stroke="#007cf5" d="M348.4 120.4h0M403.6 117.0h0M381.2 117.5h0M336.4 110.0h0M343.8 108.4h0M425.2 117.0h0M327.8 115.5h0"/>
<path stroke="#fe005c" d="M365.2 116.1h0M288.9 116.6h0M333.8 118.5h0"/>
<path stroke="#0074f0" d="M343.1 113.2h0"/>
<path stroke="#9135ba" d="M339.6 125.7h0M302.2 119.1h0M340.6 108.0h0M303.5 114.8h0M309.4 116.1h0M344.5 110.0h0M354.7 111.9h0M334.9 122.7h0M365.9 115.2h0M309.2 113.5h0M299.7 118.8h0M322.7 109.7h0M335.2 117.6h0"/>
<path stroke="#e00086" d="M312.7 112.6h0M374.7 116.3h0M343.0 125.8h0"/>
<path stroke="#f90067" d="M371.0 118.0h0M314.0 112.1h0M322.0 109.9h0"/>
<path stroke="#754fd1" d="M368.9 115.9h0M318.8 122.6h0M362.0 114.3h0M412.4 117.0h0"/>
<path stroke="#e9007c" d="M338.8 126.2h0M307.4 113.9h0M330.6 110.3h0M336.6 107.9h0M326.0 110.9h0M348.3 112.9h0"/>
<path stroke="#008bfb" d="M337.8 107.9h0M363.9 114.7h0M335.5 115.1h0M338.9 112.2h0M352.5 111.1h0M391.6 117.2h0M371.9 118.0h0M343.0 108.3h0M330.2 122.7h0"/>
<path stroke="#9b23ad" d="M319.7 110.4h0M314.3 116.3h0M333.9 126.3h0M346.5 113.3h0M327.5 125.3h0M334.0 120.9h0M362.7 119.6h0M290.1 116.6h0M300.5 117.3h0M355.2 113.9h0M314.5 121.9h0"/>
<path stroke="#ff0051" d="M296.2 118.4h0M310.8 117.7h0M292.4 117.9h0M316.9 111.1h0"/>
<path stroke="#0084f9" d="M335.6 126.3h0M331.1 121.7h0M349.6 117.9h0M353.8 117.9h0M338.0 115.3h0M306.5 117.7h0M301.0 118.8h0M390.0 117.3h0M366.3 118.9h0M345.6 122.3h0M372.4 116.2h0M381.9 117.5h0M430.8 117.1h0M324.7 115.2h0M318.8 123.5h0M343.1 115.5h0M366.7 117.6h0M314.8 118.7h0M422.8 117.1h0"/>
<path stroke="#f20072" d="M405.0 117.1h0"/>
<path stroke="#e9007c" d="M336.8 141.0h0M358.6 145.7h0M360.3 145.6h0"/>
<path stroke="#0074f0" d="M314.8 143.1h0"/>
<path stroke="#0084f9" d="M329.0 144.1h0M349.8 139.7h0M322.1 143.1h0M326.1 145.6h0M330.0 142.6h0M297.3 144.1h0M319.5 142.3h0M341.0 135.1h0M309.6 144.7h0M315.5 143.0h0M353.1 144.2h0"/>
<path stroke="#f20072" d="M342.8 137.6h0M359.3 145.5h0M367.6 144.7h0M295.7 144.2h0M309.2 143.8h0M357.2 143.8h0M337.4 152.7h0"/>
<path stroke="#8443c6" d="M334.2 147.5h0M339.1 146.9h0M331.2 138.3h0"/>
<path stroke="#9135ba" d="M331.1 150.1h0M337.5 138.4h0M352.7 137.9h0M338.1 135.5h0M320.0 144.2h0M347.8 139.5h0"/>
<path stroke="#754fd1" d="M330.4 144.6h0"/>
<path stroke="#f90067" d="M368.5 144.3h0M254.1 144.1h0"/>
<path stroke="#9b23ad" d="M318.3 142.7h0M337.2 148.4h0M317.0 142.8h0"/>
<path stroke="#008bfb" d="M355.6 148.1h0M345.2 135.2h0M318.1 145.8h0M324.6 141.2h0M322.4 146.0h0M274.9 144.2h0M322.4 141.8h0M275.7 144.3h0M333.7 137.5h0"/>
<path stroke="#fe005c" d="M376.5 144.2h0M379.7 144.2h0M256.5 144.1h0M284.5 144.1h0"/>
<path stroke="#c80098" d="M356.2 146.6h0M328.3 141.1h0M354.9 146.0h0M345.8 140.0h0M353.3 150.0h0M351.8 137.8h0"/>
<path stroke="#bb00a0" d="M351.4 146.6h0M356.4 141.0h0M331.3 148.1h0"/>
<path stroke="#ff0051" d="M262.9 144.1h0M262.1 144.3h0M283.7 144.3h0M281.3 144.3h0M374.9 144.3h0"/>
<path stroke="#007cf5" d="M330.7 145.6h0M274.1 144.1h0M312.4 145.0h0M348.1 142.2h0M353.6 139.8h0M318.4 145.3h0"/>
<path stroke="#f20072" d="M348.2 149.2h0M302.9 144.1h0M359.2 143.6h0"/>
<path stroke="#9135ba" d="M327.1 144.6h0M343.0 147.4h0M337.3 145.6h0M348.1 144.7h0M334.4 147.1h0M345.9 153.2h0M341.5 136.0h0M337.3 135.7h0"/>
<path stroke="#0084f9" d="M334.1 142.6h0M328.9 148.7h0M350.6 146.3h0M293.3 144.1h0M344.7 135.0h0M330.2 149.7h0M264.5 144.3h0M266.1 144.2h0"/>
<path stroke="#8443c6" d="M351.5 144.6h0M335.7 136.3h0M340.3 150.7h0M338.4 152.0h0"/>
<path stroke="#e9007c" d="M355.7 143.9h0M362.2 143.3h0M361.0 143.9h0M364.4 143.6h0"/>
<path stroke="#bb00a0" d="M350.7 141.6h0"/>
<path stroke="#fe005c" d="M268.5 144.2h0"/>
<path stroke="#007cf5" d="M290.1 144.2h0M267.7 144.3h0M298.1 144.1h0M318.8 142.5h0"/>
<path stroke="#ab15a7" d="M332.6 145.2h0M330.1 138.7h0"/>
<path stroke="#f90067" d="M354.2 139.1h0M377.3 144.3h0M272.5 144.1h0M337.9 151.0h0"/>
<path stroke="#c80098" d="M308.4 143.8h0M357.4 141.6h0M366.9 144.7h0M306.9 144.0h0M305.3 144.2h0M342.3 135.0h0M341.9 153.5h0M357.7 142.4h0"/>
<path stroke="#ff0051" d="M382.9 144.2h0"/>
<path stroke="#008bfb" d="M337.8 136.0h0M346.3 153.1h0M338.9 149.5h0M291.7 144.1h0M319.2 142.4h0M314.2 143.2h0M250.9 144.3h0M351.5 140.0h0M327.4 140.2h0M350.0 138.9h0M333.1 151.2h0M277.3 144.2h0M345.0 142.7h0M298.9 144.1h0M335.2 139.2h0"/>
<path stroke="#9b23ad" d="M320.2 145.2h0M349.1 136.3h0M332.9 140.3h0"/>
<path stroke="#d5008f" d="M333.0 147.6h0M353.3 142.2h0M341.8 149.3h0"/>
<path stroke="#9b23ad" d="M330.6 138.6h0M321.8 146.7h0M323.2 143.5h0M336.8 149.9h0M351.6 151.1h0M340.7 153.3h0"/>
<path stroke="#c80098" d="M346.4 149.4h0M304.5 144.0h0M365.4 144.8h0M347.8 135.7h0M367.6 143.8h0M365.4 143.6h0"/>
<path stroke="#8443c6" d="M323.8 147.0h0M316.4 145.5h0M331.1 141.1h0M348.5 147.2h0"/>
<path stroke="#ab15a7" d="M342.0 152.0h0M337.3 141.3h0"/>
<path stroke="#9135ba" d="M323.8 145.3h0M349.8 141.7h0M334.3 144.6h0M339.6 145.5h0M346.7 147.6h0M338.3 138.9h0M326.8 148.3h0M334.8 151.8h0M340.4 135.2h0M350.6 151.4h0M349.0 146.5h0M316.4 143.2h0M321.3 142.0h0M344.5 153.4h0"/>
<path stroke="#0084f9" d="M301.3 144.2h0M348.7 151.0h0M327.6 139.8h0"/>
<path stroke="#bb00a0" d="M360.6 142.9h0M350.3 151.8h0M361.9 145.2h0M343.8 152.2h0"/>
<path stroke="#754fd1" d="M319.8 146.1h0"/>
<path stroke="#e9007c" d="M373.3 144.2h0M352.0 148.9h0"/>
<path stroke="#008bfb" d="M317.1 145.6h0M331.9 138.0h0M313.0 145.1h0M340.9 142.7h0M330.5 143.4h0M339.6 135.2h0M341.0 153.4h0M345.9 135.4h0M318.7 145.9h0M335.0 136.6h0M339.7 137.5h0M311.8 143.5h0"/>
<path stroke="#fe005c" d="M252.5 144.2h0M292.5 144.4h0M363.8 144.9h0"/>
<path stroke="#f20072" d="M367.2 143.7h0"/>
<path stroke="#ff0051" d="M269.3 144.3h0M254.9 144.2h0"/>
<path stroke="#0074f0" d="M370.1 144.2h0"/>
<path stroke="#d5008f" d="M332.3 150.9h0M347.0 135.5h0"/>
<path stroke="#007cf5" d="M351.0 144.1h0M324.4 141.2h0"/>
<path stroke="#f90067" d="M342.1 149.5h0M362.9 145.0h0M378.9 144.3h0M340.6 143.0h0"/>
<path stroke="#bb00a0" d="M308.8 144.7h0M302.1 144.2h0"/>
<path stroke="#e9007c" d="M357.6 145.7h0M346.3 144.8h0M306.1 144.0h0"/>
<path stroke="#c80098" d="M340.5 147.8h0"/>
<path stroke="#0084f9" d="M328.3 149.0h0M370.9 144.2h0M318.4 143.7h0M263.7 144.1h0M338.2 143.6h0M332.7 138.5h0M332.5 137.6h0M338.8 153.1h0M339.8 135.3h0M333.0 142.5h0"/>
<path stroke="#0074f0" d="M339.3 136.3h0M294.9 144.1h0"/>
<path stroke="#008bfb" d="M325.9 147.9h0M352.4 150.6h0M348.4 137.6h0M327.6 146.9h0M341.6 145.0h0M345.1 148.0h0M333.1 140.0h0M311.5 144.9h0M347.5 152.8h0M249.3 144.3h0"/>
<path stroke="#f90067" d="M309.9 144.7h0M342.9 134.9h0M358.1 146.2h0M374.1 144.1h0M271.7 144.2h0M349.2 152.1h0"/>
<path stroke="#ff0051" d="M255.7 144.3h0"/>
<path stroke="#9b23ad" d="M355.7 140.3h0M336.6 148.0h0"/>
<path stroke="#007cf5" d="M348.2 136.0h0M371.7 144.0h0M326.2 142.9h0M338.7 135.4h0M326.1 140.5h0M311.1 143.6h0M265.3 144.3h0"/>
<path stroke="#ab15a7" d="M357.2 146.8h0M333.5 144.8h0"/>
<path stroke="#8443c6" d="M336.4 142.8h0M329.8 148.8h0M345.4 150.4h0M309.8 143.7h0M348.8 148.7h0M328.2 139.5h0M353.3 138.5h0"/>
<path stroke="#fe005c" d="M261.3 144.2h0M382.1 144.2h0M280.5 144.2h0"/>
<path stroke="#d5008f" d="M351.7 142.4h0"/>
<path stroke="#9135ba" d="M339.6 153.2h0M325.0 145.2h0M353.6 148.8h0M354.8 148.8h0M348.1 151.7h0M324.5 143.1h0"/>
<path stroke="#f20072" d="M380.5 144.2h0M290.9 144.3h0M344.1 136.1h0M359.2 146.0h0M354.1 143.7h0M251.7 144.2h0"/>
<path stroke="#c80098" d="M329.9 146.6h0M361.3 143.1h0M363.6 143.5h0M358.3 143.8h0M345.3 145.4h0M356.2 141.2h0"/>
<path stroke="#9b23ad" d="M346.4 139.8h0M346.3 137.6h0M327.0 142.3h0M343.5 153.6h0"/>
<path stroke="#9135ba" d="M341.5 146.9h0M335.0 136.6h0M344.7 144.8h0M340.6 140.5h0M341.8 140.4h0M333.4 149.3h0M345.2 153.3h0"/>
<path stroke="#008bfb" d="M325.6 140.9h0M314.5 144.3h0M250.1 144.2h0M342.6 153.6h0M313.9 145.2h0M276.5 144.1h0M313.0 143.3h0M342.3 142.1h0M350.1 149.3h0M299.7 144.3h0M266.9 144.2h0M343.2 135.6h0M353.8 141.1h0M300.5 144.2h0M342.9 144.4h0M323.0 146.9h0"/>
<path stroke="#bb00a0" d="M356.4 147.5h0M307.7 144.6h0M359.0 142.5h0"/>
<path stroke="#f20072" d="M359.8 145.8h0M378.1 144.2h0M364.3 144.9h0"/>
<path stroke="#0084f9" d="M321.6 146.5h0M289.3 144.3h0M320.6 142.2h0M316.2 142.9h0M324.3 147.2h0M323.8 141.4h0M315.4 145.4h0"/>
<path stroke="#007cf5" d="M311.1 144.8h0M343.8 140.5h0M322.9 141.6h0M320.6 146.3h0"/>
<path stroke="#f90067" d="M350.2 136.7h0"/>
<path stroke="#d5008f" d="M346.8 142.3h0M303.7 144.2h0M327.5 148.7h0"/>
<path stroke="#e9007c" d="M372.5 144.2h0M294.1 144.1h0"/>
<path stroke="#8443c6" d="M331.8 150.5h0"/>
<path stroke="#fe005c" d="M381.3 144.3h0M270.9 144.2h0M257.3 144.2h0M278.1 144.1h0M286.9 144.1h0M273.3 144.3h0"/>
<path stroke="#ff0051" d="M282.1 144.3h0M278.9 144.3h0M384.5 144.2h0M270.1 144.2h0M286.1 144.3h0M260.5 144.2h0"/>
<path stroke="#9135ba" d="M334.0 151.5h0M344.8 137.1h0M350.8 137.0h0M346.7 152.9h0M348.7 152.5h0M320.8 143.6h0"/>
<path stroke="#ab15a7" d="M343.4 134.9h0M328.6 146.1h0M353.0 146.3h0M350.0 151.6h0M315.9 143.6h0"/>
<path stroke="#0084f9" d="M312.5 143.4h0M335.1 142.1h0M326.9 140.2h0M343.7 143.0h0M326.1 147.9h0M335.4 152.1h0M354.6 139.7h0M338.6 141.6h0"/>
<path stroke="#d5008f" d="M329.0 139.1h0M359.9 142.7h0"/>
<path stroke="#8443c6" d="M325.5 147.6h0M342.5 140.1h0M342.5 152.0h0M336.6 136.0h0M337.9 153.0h0M334.7 149.5h0M349.6 143.5h0M329.3 149.4h0M341.5 137.8h0M351.4 137.4h0"/>
<path stroke="#c80098" d="M344.4 138.3h0M336.1 145.7h0M335.9 136.5h0M343.5 147.6h0"/>
<path stroke="#008bfb" d="M329.2 140.3h0M317.3 144.4h0M344.5 149.6h0M335.6 138.8h0M334.1 136.9h0M354.4 148.4h0M333.1 137.2h0M346.3 152.0h0"/>
<path stroke="#9b23ad" d="M314.6 145.3h0M323.8 141.5h0M333.0 149.3h0"/>
<path stroke="#f90067" d="M279.7 144.1h0M287.7 144.4h0M349.8 137.0h0M365.8 144.8h0M362.7 143.5h0"/>
<path stroke="#ff0051" d="M282.9 144.2h0M253.3 144.3h0M258.1 144.2h0M383.7 144.2h0"/>
<path stroke="#007cf5" d="M336.5 152.4h0M248.5 144.2h0M338.5 144.2h0M288.5 144.3h0"/>
<path stroke="#fe005c" d="M285.3 144.1h0M258.9 144.2h0M375.7 144.3h0"/>
<path stroke="#bb00a0" d="M366.1 143.7h0"/>
<path stroke="#0074f0" d="M369.3 144.4h0"/>
<path stroke="#f20072" d="M354.1 149.4h0M259.7 144.3h0M358.4 142.3h0M296.5 144.1h0M361.3 145.4h0"/>
<path stroke="#8443c6" d="M338.5 167.6h0M346.8 169.2h0M332.0 177.8h0"/>
<path stroke="#754fd1" d="M327.2 171.5h0"/>
<path stroke="#f90067" d="M277.6 171.4h0M409.6 171.3h0M382.4 171.3h0M394.4 171.4h0M379.2 171.3h0"/>
<path stroke="#0074f0" d="M334.6 175.5h0"/>
<path stroke="#0084f9" d="M308.8 171.3h0M351.8 170.2h0M319.0 172.7h0M335.1 179.1h0M347.8 164.7h0M345.5 166.7h0M346.5 171.8h0M333.0 170.6h0"/>
<path stroke="#c80098" d="M329.0 170.8h0M327.2 175.8h0M335.5 170.0h0"/>
<path stroke="#bb00a0" d="M341.4 173.8h0"/>
<path stroke="#008bfb" d="M330.1 168.8h0M342.9 166.5h0M340.3 175.4h0M336.4 177.3h0M338.8 176.5h0M319.5 171.6h0M331.8 165.0h0M333.9 174.6h0M349.9 168.6h0M332.7 178.1h0"/>
<path stroke="#9135ba" d="M339.7 170.3h0M326.3 171.7h0M345.1 163.1h0M302.4 171.4h0"/>
<path stroke="#ff0051" d="M355.1 170.2h0M396.8 171.3h0M371.2 171.5h0M356.5 170.7h0M377.6 171.3h0M288.0 171.4h0M402.4 171.3h0M285.6 171.4h0M270.4 171.4h0M406.4 171.4h0M408.0 171.4h0M376.0 171.4h0M420.0 171.4h0"/>
<path stroke="#9b23ad" d="M314.4 171.4h0M304.0 171.4h0"/>
<path stroke="#f20072" d="M272.8 171.4h0"/>
<path stroke="#007cf5" d="M325.6 169.3h0M329.2 166.5h0M352.7 174.7h0"/>
<path stroke="#fe005c" d="M354.3 170.8h0M372.0 171.5h0M408.8 171.5h0M404.0 171.4h0M410.4 171.4h0M279.2 171.4h0M404.8 171.3h0M287.2 171.4h0M291.2 171.4h0"/>
<path stroke="#fe005c" d="M353.7 169.5h0M309.6 171.4h0M385.6 171.4h0M418.4 171.4h0M268.8 171.4h0M384.8 171.5h0M364.0 171.6h0M416.0 171.4h0M363.2 171.5h0"/>
<path stroke="#0084f9" d="M347.5 178.5h0M336.2 179.4h0M322.5 173.8h0M332.5 166.2h0M326.2 175.5h0M340.3 167.6h0M347.8 174.0h0M335.2 177.4h0M342.1 179.1h0"/>
<path stroke="#008bfb" d="M320.6 169.6h0M351.7 167.4h0M337.9 165.0h0M320.8 173.2h0M320.1 172.9h0M312.0 171.4h0M350.5 176.6h0M350.1 175.6h0M342.4 162.7h0M343.6 179.2h0M343.8 176.9h0"/>
<path stroke="#754fd1" d="M328.8 173.7h0"/>
<path stroke="#007cf5" d="M334.4 178.7h0M331.6 169.0h0M336.8 165.5h0M332.4 168.4h0M321.3 173.5h0M333.7 178.4h0"/>
<path stroke="#ab15a7" d="M290.4 171.4h0"/>
<path stroke="#f20072" d="M301.6 171.4h0M293.6 171.3h0M295.2 171.4h0"/>
<path stroke="#ff0051" d="M392.0 171.4h0M368.0 171.4h0M357.7 171.0h0M417.6 171.4h0M289.6 171.4h0M353.3 173.6h0M280.0 171.4h0M354.2 169.6h0M365.6 171.3h0M376.8 171.4h0"/>
<path stroke="#d5008f" d="M284.0 171.4h0"/>
<path stroke="#6359da" d="M351.1 166.8h0"/>
<path stroke="#0074f0" d="M318.8 170.8h0"/>
<path stroke="#bb00a0" d="M346.2 178.9h0"/>
<path stroke="#9135ba" d="M296.0 171.4h0M343.1 171.6h0M332.1 177.2h0M348.3 169.6h0M349.1 170.8h0"/>
<path stroke="#c80098" d="M333.0 174.6h0"/>
<path stroke="#f90067" d="M384.0 171.5h0M396.0 171.5h0"/>
<path stroke="#8443c6" d="M292.8 171.4h0M303.2 171.4h0"/>
<path stroke="#008bfb" d="M323.5 174.1h0M346.3 176.5h0M349.8 177.2h0M346.9 164.3h0M329.9 171.0h0M327.4 169.0h0M338.7 178.6h0M335.7 163.4h0M344.0 179.8h0M340.0 162.3h0M343.3 162.9h0"/>
<path stroke="#f90067" d="M300.8 171.4h0M353.8 168.9h0"/>
<path stroke="#ab15a7" d="M322.8 169.3h0"/>
<path stroke="#007cf5" d="M315.1 171.0h0M341.3 169.0h0M340.5 180.3h0"/>
<path stroke="#9135ba" d="M322.8 171.1h0M351.5 174.4h0M345.0 179.7h0M334.5 164.1h0M344.9 171.7h0"/>
<path stroke="#bb00a0" d="M324.3 174.7h0"/>
<path stroke="#0084f9" d="M307.2 171.5h0M339.2 180.6h0M352.7 168.1h0M322.4 169.0h0M324.4 170.0h0M343.1 179.1h0M331.0 171.4h0M334.7 167.6h0M370.4 171.3h0M343.3 168.9h0M369.6 171.5h0M342.3 180.1h0"/>
<path stroke="#8443c6" d="M330.3 177.1h0M345.4 169.0h0M328.9 166.3h0M316.6 170.7h0"/>
<path stroke="#c80098" d="M344.2 167.6h0M340.2 172.6h0M331.7 175.8h0"/>
<path stroke="#fe005c" d="M273.6 171.4h0M414.4 171.4h0M356.3 170.5h0M360.8 171.6h0M357.4 171.8h0M380.0 171.5h0M395.2 171.5h0M373.6 171.4h0M355.9 172.3h0M358.4 171.2h0"/>
<path stroke="#9b23ad" d="M330.9 173.9h0M317.5 172.3h0"/>
<path stroke="#ff0051" d="M390.4 171.4h0M412.0 171.4h0M281.6 171.4h0M275.2 171.4h0M375.2 171.3h0M387.2 171.3h0M364.8 171.4h0M313.6 171.2h0"/>
<path stroke="#d5008f" d="M329.4 166.0h0"/>
<path stroke="#f20072" d="M397.6 171.3h0"/>
<path stroke="#ff0051" d="M393.6 171.4h0M419.2 171.4h0M354.3 173.2h0M284.8 171.4h0M398.4 171.5h0M405.6 171.4h0M411.2 171.4h0M389.6 171.3h0M305.6 171.4h0"/>
<path stroke="#f90067" d="M415.2 171.5h0"/>
<path stroke="#008bfb" d="M321.8 173.1h0M337.4 180.1h0M345.9 173.7h0M336.7 179.7h0M330.0 175.5h0M344.0 170.0h0M321.7 170.2h0M337.5 162.7h0M331.0 166.4h0M299.2 171.4h0M335.7 167.9h0M337.3 179.5h0M346.5 163.9h0M327.8 176.2h0M340.7 178.2h0"/>
<path stroke="#9b23ad" d="M348.8 165.1h0"/>
<path stroke="#d5008f" d="M342.0 176.6h0M343.1 179.9h0"/>
<path stroke="#c80098" d="M271.2 171.4h0M333.9 176.9h0M347.4 175.9h0"/>
<path stroke="#bb00a0" d="M337.6 167.4h0M334.1 165.1h0M276.8 171.4h0"/>
<path stroke="#8443c6" d="M310.4 171.4h0M345.5 163.5h0M341.2 171.1h0"/>
<path stroke="#0074f0" d="M325.1 174.8h0M323.8 168.4h0"/>
<path stroke="#9135ba" d="M316.0 170.9h0M338.8 162.7h0M334.9 164.9h0M318.2 172.5h0M325.3 175.1h0M341.7 162.6h0"/>
<path stroke="#fe005c" d="M403.2 171.5h0M356.9 172.1h0M288.8 171.4h0M401.6 171.4h0M311.2 171.4h0M306.4 171.5h0M381.6 171.5h0M367.2 171.5h0"/>
<path stroke="#f20072" d="M269.6 171.4h0"/>
<path stroke="#0084f9" d="M337.1 163.1h0M333.9 167.2h0M319.7 169.9h0M338.1 180.4h0M335.1 163.7h0"/>
<path stroke="#007cf5" d="M318.3 170.3h0M347.8 178.1h0M340.8 162.5h0M353.8 173.9h0M340.2 180.5h0"/>
<path stroke="#fe005c" d="M268.0 171.4h0M312.8 171.5h0M353.9 172.7h0M361.6 171.6h0M374.4 171.3h0M272.0 171.4h0M407.2 171.4h0M282.4 171.4h0M378.4 171.3h0"/>
<path stroke="#ff0051" d="M278.4 171.4h0M413.6 171.4h0M353.6 171.6h0M276.0 171.4h0M412.8 171.4h0M380.8 171.5h0M416.8 171.3h0M388.0 171.4h0M366.4 171.3h0M274.4 171.4h0"/>
<path stroke="#f20072" d="M297.6 171.4h0"/>
<path stroke="#007cf5" d="M348.2 164.7h0M334.2 169.7h0"/>
<path stroke="#ab15a7" d="M348.8 177.7h0M318.0 171.1h0M328.9 176.5h0"/>
<path stroke="#0074f0" d="M345.9 178.3h0M325.1 168.0h0M323.4 168.7h0"/>
<path stroke="#c80098" d="M280.8 171.4h0M337.0 176.9h0"/>
<path stroke="#8443c6" d="M327.5 173.3h0M335.7 173.0h0M338.5 169.3h0M340.3 162.8h0"/>
<path stroke="#9b23ad" d="M315.1 171.8h0M330.4 165.7h0M316.0 171.9h0M338.0 169.6h0"/>
<path stroke="#008bfb" d="M339.2 162.2h0M323.6 172.7h0M345.4 179.3h0M342.8 174.3h0M368.8 171.5h0M348.5 166.7h0M347.2 166.5h0M325.3 174.2h0M349.5 165.9h0M327.5 175.8h0M308.0 171.4h0M350.7 166.2h0M347.3 164.3h0"/>
<path stroke="#9135ba" d="M349.9 165.6h0M298.4 171.3h0M317.5 170.5h0M331.4 177.4h0M348.0 171.8h0M333.5 172.3h0M332.6 164.7h0"/>
<path stroke="#754fd1" d="M336.0 163.4h0"/>
<path stroke="#0084f9" d="M329.5 176.8h0M335.7 170.4h0M344.2 163.0h0M333.0 173.2h0M319.5 170.1h0"/>
<path stroke="#8443c6" d="M324.3 174.4h0M345.7 176.0h0M335.1 172.8h0M337.3 172.0h0"/>
<path stroke="#0084f9" d="M342.7 164.1h0M344.8 164.3h0M351.4 176.0h0M324.5 172.1h0M347.2 174.0h0M304.8 171.3h0M317.0 172.1h0M350.8 170.3h0M331.4 165.4h0M350.5 173.0h0M341.9 180.2h0M328.2 166.6h0M333.8 164.4h0M344.0 164.9h0"/>
<path stroke="#fe005c" d="M386.4 171.4h0M400.8 171.4h0M352.3 175.4h0M392.8 171.4h0M372.8 171.4h0M362.4 171.4h0"/>
<path stroke="#9b23ad" d="M321.7 169.3h0M330.0 173.3h0"/>
<path stroke="#008bfb" d="M338.3 162.4h0M344.2 174.5h0M349.0 173.4h0M338.3 174.5h0M326.4 167.3h0M340.3 165.2h0"/>
<path stroke="#c80098" d="M342.7 176.6h0"/>
<path stroke="#754fd1" d="M337.9 174.7h0"/>
<path stroke="#f90067" d="M360.0 171.4h0"/>
<path stroke="#e9007c" d="M296.8 171.4h0M294.4 171.4h0"/>
<path stroke="#007cf5" d="M327.9 168.5h0M341.2 163.5h0M336.9 175.0h0M341.6 166.6h0M351.9 172.5h0M350.5 167.5h0M328.3 176.1h0M327.3 167.0h0"/>
<path stroke="#ff0051" d="M286.4 171.4h0M355.2 172.6h0M283.2 171.4h0M359.2 171.2h0M383.2 171.4h0M400.0 171.4h0M391.2 171.4h0M388.8 171.4h0M399.2 171.4h0"/>
<path stroke="#ab15a7" d="M339.4 172.1h0"/>
<path stroke="#f20072" d="M300.0 171.4h0M292.0 171.4h0"/>
<path stroke="#d5008f" d="M338.5 165.3h0M344.1 172.0h0"/>
<path stroke="#9135ba" d="M325.8 167.7h0M349.5 175.6h0M321.4 173.5h0M320.7 171.4h0M352.1 168.2h0"/>
<path stroke="#ff0058" d="M423.7 171.4h0"/>
<path stroke="#ff0058" d="M428.5 171.4h0"/>
<path stroke="#fe005c" d="M352.2 197.1h0M371.6 198.6h0"/>
<path stroke="#f20072" d="M365.2 198.5h0"/>
<path stroke="#008bfb" d="M287.6 198.6h0M292.4 198.6h0M348.2 194.5h0M341.3 195.2h0M308.4 198.4h0M336.3 202.0h0M282.8 198.6h0M327.7 195.2h0"/>
<path stroke="#bb00a0" d="M338.1 207.3h0M347.6 193.9h0M341.3 193.0h0"/>
<path stroke="#ab15a7" d="M336.5 206.8h0M336.5 206.0h0M339.9 195.3h0M335.3 192.7h0"/>
<path stroke="#f90067" d="M347.4 195.5h0M352.9 197.4h0"/>
<path stroke="#9b23ad" d="M344.8 205.0h0M349.5 199.0h0M332.6 201.7h0M330.0 193.8h0M339.3 207.7h0M346.1 198.7h0"/>
<path stroke="#c80098" d="M346.2 204.6h0M346.9 196.1h0"/>
<path stroke="#0084f9" d="M291.6 198.6h0M288.4 198.6h0M330.1 195.9h0M298.8 198.5h0M319.9 197.6h0M299.6 198.5h0"/>
<path stroke="#ff0051" d="M351.3 200.4h0M369.2 198.6h0"/>
<path stroke="#d5008f" d="M339.4 202.1h0M338.9 203.0h0M338.5 206.0h0"/>
<path stroke="#9135ba" d="M325.1 198.5h0M326.8 196.2h0M334.0 205.6h0M337.0 195.1h0M336.1 194.6h0M326.6 198.2h0"/>
<path stroke="#007cf5" d="M323.9 199.9h0M316.4 199.2h0"/>
<path stroke="#4b63e3" d="M327.4 200.6h0"/>
<path stroke="#008bfb" d="M343.5 190.8h0M316.6 197.9h0M320.8 198.2h0M344.3 194.1h0M304.4 198.6h0M318.9 199.5h0M294.0 198.6h0M313.8 199.0h0M324.4 196.6h0M328.4 201.3h0"/>
<path stroke="#9135ba" d="M332.2 197.1h0M342.8 200.9h0M326.1 201.1h0"/>
<path stroke="#e9007c" d="M341.4 207.4h0"/>
<path stroke="#f20072" d="M374.8 198.6h0M340.0 199.6h0M349.9 195.8h0"/>
<path stroke="#8443c6" d="M337.6 197.8h0"/>
<path stroke="#d5008f" d="M332.9 202.3h0"/>
<path stroke="#ff0051" d="M357.2 198.6h0"/>
<path stroke="#6359da" d="M323.5 199.1h0"/>
<path stroke="#0084f9" d="M323.4 198.1h0M321.5 197.6h0M324.6 200.6h0M290.0 198.6h0M345.3 192.0h0"/>
<path stroke="#e00086" d="M362.8 198.6h0"/>
<path stroke="#c80098" d="M341.9 190.0h0"/>
<path stroke="#bb00a0" d="M346.8 193.2h0M340.0 192.6h0M342.9 198.9h0"/>
<path stroke="#9b23ad" d="M342.2 191.1h0M346.9 203.0h0M341.4 190.2h0M343.9 204.7h0M342.7 193.4h0M336.6 190.4h0M343.8 201.5h0M338.2 189.8h0M337.4 205.5h0"/>
<path stroke="#754fd1" d="M322.1 199.8h0"/>
<path stroke="#0074f0" d="M331.8 192.9h0"/>
<path stroke="#ab15a7" d="M339.2 206.9h0M326.0 196.1h0"/>
<path stroke="#fe005c" d="M353.1 199.1h0M352.2 200.1h0M362.0 198.5h0"/>
<path stroke="#fe005c" d="M351.8 196.7h0"/>
<path stroke="#f90067" d="M338.0 198.6h0M355.9 198.1h0M346.8 203.9h0"/>
<path stroke="#0084f9" d="M318.0 197.7h0M311.6 198.6h0M314.6 199.1h0M325.4 200.8h0M310.0 198.8h0M344.3 196.7h0M302.8 198.6h0"/>
<path stroke="#d5008f" d="M348.7 202.6h0M339.8 189.4h0M333.4 195.9h0M327.8 199.2h0"/>
<path stroke="#8443c6" d="M334.7 198.1h0"/>
<path stroke="#ff0051" d="M354.6 198.1h0M374.0 198.6h0"/>
<path stroke="#9135ba" d="M335.7 190.8h0M329.3 202.9h0"/>
<path stroke="#ab15a7" d="M348.1 202.7h0M336.7 203.1h0"/>
<path stroke="#007cf5" d="M319.3 199.6h0M323.0 197.1h0M323.6 196.8h0M328.8 195.3h0"/>
<path stroke="#4b63e3" d="M322.8 200.1h0"/>
<path stroke="#008bfb" d="M310.8 198.9h0M332.2 199.5h0M330.9 203.5h0M289.2 198.6h0M315.4 198.0h0M305.2 198.5h0"/>
<path stroke="#e9007c" d="M359.6 198.6h0M349.2 201.1h0M363.6 198.6h0M372.4 198.6h0M344.7 191.4h0"/>
<path stroke="#c80098" d="M344.1 205.8h0M328.5 194.7h0M337.3 207.1h0M338.4 193.5h0"/>
<path stroke="#9b23ad" d="M336.1 204.0h0M343.5 191.7h0"/>
<path stroke="#bb00a0" d="M349.1 195.2h0M342.5 206.9h0M327.1 201.5h0"/>
<path stroke="#0084f9" d="M302.0 198.6h0M282.0 198.6h0M322.0 197.3h0M286.8 198.6h0M328.0 196.3h0M312.4 198.8h0M332.4 192.4h0M326.7 195.6h0M293.2 198.6h0"/>
<path stroke="#c80098" d="M341.1 203.1h0"/>
<path stroke="#fe005c" d="M353.1 197.8h0M370.8 198.6h0M355.0 199.1h0"/>
<path stroke="#008bfb" d="M331.5 203.6h0M335.6 199.2h0M320.2 199.6h0M332.6 204.7h0M342.9 190.3h0M330.1 203.4h0M332.7 197.8h0M328.8 197.8h0"/>
<path stroke="#f90067" d="M364.4 198.5h0M331.3 201.3h0M361.2 198.6h0M358.8 198.7h0M373.2 198.6h0"/>
<path stroke="#9135ba" d="M335.0 191.2h0M333.8 191.6h0"/>
<path stroke="#9b23ad" d="M324.4 198.1h0M349.6 198.6h0M336.6 190.2h0M344.7 193.4h0M343.4 206.4h0M340.6 207.7h0M342.3 206.1h0"/>
<path stroke="#d5008f" d="M333.9 193.8h0M348.3 196.1h0"/>
<path stroke="#e9007c" d="M328.9 199.6h0"/>
<path stroke="#ab15a7" d="M338.8 195.7h0M345.8 200.5h0"/>
<path stroke="#007cf5" d="M317.2 197.8h0M300.4 198.5h0M327.4 202.0h0"/>
<path stroke="#f20072" d="M336.3 196.8h0M345.5 198.2h0"/>
<path stroke="#bb00a0" d="M339.4 197.8h0M342.4 195.8h0"/>
<path stroke="#9135ba" d="M334.7 205.4h0"/>
<path stroke="#d5008f" d="M344.5 195.8h0M351.0 197.4h0"/>
<path stroke="#ab15a7" d="M344.0 199.0h0M339.1 189.6h0M339.0 207.5h0M336.6 200.0h0M333.3 204.4h0M346.0 194.1h0M347.8 203.3h0"/>
<path stroke="#0074f0" d="M333.0 199.9h0M306.8 198.6h0"/>
<path stroke="#6359da" d="M323.4 200.3h0"/>
<path stroke="#bb00a0" d="M344.7 202.2h0"/>
<path stroke="#9b23ad" d="M335.1 206.0h0M347.6 200.3h0"/>
<path stroke="#007cf5" d="M315.1 198.1h0M313.0 199.0h0M345.3 205.2h0"/>
<path stroke="#008bfb" d="M313.9 198.1h0M309.2 198.5h0M306.0 198.5h0M329.4 194.2h0M338.4 190.9h0M294.8 198.6h0M296.4 198.5h0"/>
<path stroke="#0084f9" d="M312.9 198.1h0M295.6 198.6h0M330.9 203.8h0M285.2 198.6h0M303.6 198.5h0M325.2 196.3h0M284.4 198.6h0M301.2 198.6h0M317.2 199.3h0M283.6 198.6h0M321.2 199.7h0"/>
<path stroke="#ff0051" d="M353.9 197.8h0M366.0 198.6h0"/>
<path stroke="#c80098" d="M337.9 200.6h0M333.0 205.2h0M341.0 200.6h0"/>
<path stroke="#f90067" d="M337.1 190.0h0M367.6 198.6h0"/>
<path stroke="#fe005c" d="M350.8 200.8h0M360.4 198.7h0M370.0 198.6h0"/>
<path stroke="#0084f9" d="M349.9 196.4h0M307.6 198.6h0M298.0 198.5h0M318.8 197.7h0M320.9 197.4h0M297.2 198.6h0M337.6 192.9h0M325.0 200.6h0"/>
<path stroke="#8443c6" d="M339.9 204.5h0"/>
<path stroke="#ff0051" d="M353.1 199.7h0M355.8 199.0h0"/>
<path stroke="#d5008f" d="M331.2 198.0h0M345.4 200.0h0M331.8 194.4h0"/>
<path stroke="#236cea" d="M315.3 199.1h0"/>
<path stroke="#008bfb" d="M333.2 192.0h0M286.0 198.6h0M331.5 204.3h0M346.2 192.6h0M347.3 197.7h0M317.8 199.4h0"/>
<path stroke="#754fd1" d="M328.2 202.4h0"/>
<path stroke="#9b23ad" d="M348.9 202.0h0M349.9 201.3h0M341.5 205.3h0M350.6 196.3h0M340.0 190.6h0M341.1 189.7h0M340.2 189.5h0"/>
<path stroke="#0074f0" d="M320.1 197.5h0"/>
<path stroke="#f90067" d="M334.9 200.0h0"/>
<path stroke="#fe005c" d="M353.7 199.4h0M368.4 198.6h0M366.8 198.6h0M358.0 198.4h0M356.4 198.9h0"/>
<path stroke="#007cf5" d="M335.2 202.6h0M351.2 199.4h0M290.8 198.6h0"/>
<path stroke="#f20072" d="M335.1 193.3h0"/>
<path stroke="#c80098" d="M342.2 207.2h0M329.9 201.5h0M334.4 195.2h0M330.8 193.3h0"/>
<path stroke="#ab15a7" d="M342.0 203.6h0M335.8 206.4h0M340.5 197.6h0"/>
<path stroke="#0086fa" d="M270.5 198.6h0"/>
<path stroke="#0086fa" d="M273.5 198.6h0"/>
<path stroke="#0086fa" d="M276.5 198.6h0"/>
<path stroke="#0086fa" d="M279.5 198.6h0"/>
<path stroke="#ff0058" d="M377.3 198.6h0"/>
<path stroke="#ff0058" d="M380.3 198.6h0"/>
<path stroke="#ff0058" d="M382.8 198.6h0"/>
<path stroke="#ff0058" d="M388.8 198.6h0"/>
<path stroke="#9b23ad" d="M353.6 225.4h0M341.0 231.2h0M352.7 226.2h0"/>
<path stroke="#f90067" d="M332.5 222.6h0"/>
<path stroke="#c80098" d="M376.0 225.7h0"/>
<path stroke="#007cf5" d="M336.5 234.8h0M351.5 227.0h0M333.3 230.3h0M311.2 225.7h0M340.6 218.5h0M341.0 234.5h0M325.7 222.2h0"/>
<path stroke="#0074f0" d="M342.0 228.8h0"/>
<path stroke="#e00086" d="M358.4 225.7h0"/>
<path stroke="#0084f9" d="M338.1 227.4h0M343.3 233.2h0M343.2 227.2h0M337.7 218.5h0M347.0 224.9h0M288.8 225.7h0M340.4 223.7h0M303.2 225.7h0M317.8 226.2h0M304.0 225.8h0M365.6 225.7h0M329.6 231.6h0M313.6 225.7h0M348.4 226.4h0M328.1 230.6h0M331.0 220.1h0"/>
<path stroke="#008bfb" d="M294.4 225.7h0M327.2 221.3h0M337.6 232.4h0M326.4 223.8h0M360.0 225.6h0M329.4 219.9h0M341.4 224.2h0M322.2 227.5h0M318.5 225.2h0M340.6 228.9h0M341.2 233.3h0M335.7 223.5h0M320.7 226.0h0M332.3 230.3h0M334.7 221.6h0M335.0 217.3h0"/>
<path stroke="#008bfb" d="M328.7 225.6h0M321.9 227.1h0M312.8 225.7h0M338.2 220.9h0M338.6 233.7h0M341.5 217.2h0M332.2 227.5h0M332.9 233.4h0M335.8 230.7h0M310.4 225.7h0M316.0 226.0h0M330.8 227.0h0M339.2 235.1h0M370.4 225.7h0"/>
<path stroke="#0084f9" d="M321.6 224.4h0M348.6 228.2h0M348.8 228.7h0M336.5 217.9h0M349.8 227.7h0M328.9 231.1h0M292.8 225.7h0M321.7 224.6h0M325.4 224.4h0M337.2 225.7h0M348.9 223.3h0M346.4 221.0h0M336.2 223.3h0M293.6 225.7h0"/>
<path stroke="#8443c6" d="M337.0 233.4h0M339.0 216.4h0M327.8 225.7h0M338.2 230.1h0M326.6 226.3h0"/>
<path stroke="#9b23ad" d="M345.9 230.7h0M335.1 233.2h0M352.8 225.2h0"/>
<path stroke="#007cf5" d="M338.3 222.9h0M350.8 226.5h0M336.8 230.7h0"/>
<path stroke="#e00086" d="M340.0 234.9h0"/>
<path stroke="#f20072" d="M364.8 225.7h0"/>
<path stroke="#9135ba" d="M339.5 230.8h0M349.9 226.1h0"/>
<path stroke="#0074f0" d="M327.9 220.9h0M337.7 216.4h0"/>
<path stroke="#9b23ad" d="M329.2 229.5h0M325.0 228.8h0M356.0 226.0h0M372.8 225.7h0"/>
<path stroke="#0084f9" d="M296.0 225.7h0M322.3 226.7h0M347.4 227.2h0M330.3 227.1h0M331.8 231.1h0M342.2 217.7h0M304.8 225.8h0M342.1 233.7h0M312.0 225.8h0M328.2 227.2h0M334.4 218.7h0M328.2 221.2h0"/>
<path stroke="#0074f0" d="M308.0 225.8h0M323.0 225.2h0M359.2 225.6h0"/>
<path stroke="#8443c6" d="M326.9 230.2h0M368.8 225.8h0"/>
<path stroke="#f90067" d="M375.2 225.7h0"/>
<path stroke="#008bfb" d="M302.4 225.8h0M316.8 226.0h0M319.1 225.1h0M344.6 228.9h0M315.2 225.7h0M339.2 223.8h0M314.4 225.8h0M341.1 226.9h0M363.2 225.8h0M340.9 216.7h0M325.0 222.6h0M347.9 228.9h0M335.8 234.5h0M350.2 227.3h0M341.8 234.3h0M345.0 224.6h0M350.3 224.1h0M298.4 225.7h0"/>
<path stroke="#e00086" d="M373.6 225.7h0"/>
<path stroke="#9135ba" d="M344.9 231.1h0"/>
<path stroke="#007cf5" d="M322.1 223.9h0M332.1 233.0h0M330.9 232.5h0M332.9 225.4h0"/>
<path stroke="#0084f9" d="M344.8 219.5h0M327.8 223.4h0M345.3 226.4h0M330.2 231.7h0M333.6 220.8h0M333.8 227.7h0M351.8 226.6h0M346.4 222.5h0M323.4 227.0h0M307.2 225.7h0M334.3 217.6h0M338.6 235.2h0M309.6 225.7h0"/>
<path stroke="#ab15a7" d="M339.1 216.8h0"/>
<path stroke="#008bfb" d="M334.9 228.3h0M335.6 225.7h0M349.9 224.3h0M327.1 227.8h0M329.0 220.4h0M332.0 229.3h0M332.1 232.9h0M308.8 225.8h0M330.6 229.4h0M332.1 218.5h0M348.6 224.8h0M323.0 223.5h0M368.0 225.8h0M347.2 221.8h0M339.4 219.5h0M301.6 225.8h0M319.3 226.4h0"/>
<path stroke="#9b23ad" d="M362.4 225.6h0"/>
<path stroke="#9135ba" d="M361.6 225.6h0"/>
<path stroke="#e9007c" d="M376.8 225.7h0"/>
<path stroke="#f20072" d="M372.0 225.8h0"/>
<path stroke="#0074f0" d="M326.2 221.8h0M343.6 231.5h0"/>
<path stroke="#007cf5" d="M346.3 228.2h0M344.4 222.5h0M366.4 225.7h0M318.2 226.3h0M354.4 225.5h0M355.2 225.5h0M342.5 221.9h0M333.7 225.7h0"/>
<path stroke="#8443c6" d="M344.1 232.6h0"/>
<path stroke="#fe005c" d="M364.0 225.7h0M369.6 225.8h0"/>
<path stroke="#9135ba" d="M347.1 229.7h0M334.9 218.6h0M360.8 225.9h0"/>
<path stroke="#007cf5" d="M333.9 232.7h0M317.4 225.3h0"/>
<path stroke="#008bfb" d="M290.4 225.7h0M323.8 223.1h0M336.0 217.0h0M339.5 221.9h0M338.3 234.4h0M343.0 218.3h0M295.2 225.8h0M345.1 224.2h0M351.3 224.5h0M299.2 225.7h0M292.0 225.7h0M344.9 227.3h0M327.4 230.0h0M333.5 217.8h0M339.3 229.0h0M325.6 229.3h0M338.7 225.9h0M356.8 225.5h0M335.5 234.2h0M340.3 216.6h0M336.9 216.7h0"/>
<path stroke="#0084f9" d="M357.6 225.7h0M330.2 219.4h0M340.4 226.3h0M341.1 220.9h0M350.3 225.7h0M334.6 233.9h0M300.0 225.7h0M331.1 219.0h0M325.0 228.6h0M337.6 225.5h0M349.6 223.8h0"/>
<path stroke="#0074f0" d="M336.6 228.8h0M333.6 233.7h0"/>
<path stroke="#e00086" d="M371.2 225.8h0"/>
<path stroke="#754fd1" d="M348.3 222.5h0"/>
<path stroke="#e9007c" d="M351.9 224.9h0"/>
<path stroke="#ab15a7" d="M340.8 234.8h0"/>
<path stroke="#0084f9" d="M332.9 220.1h0M345.6 231.2h0M296.8 225.8h0M345.7 220.3h0M297.6 225.7h0M300.8 225.7h0M346.1 221.9h0M330.6 222.0h0M345.0 220.5h0M330.2 232.1h0M338.4 216.3h0M328.3 223.1h0M306.4 225.7h0M288.0 225.7h0M337.0 220.5h0"/>
<path stroke="#9135ba" d="M343.5 219.2h0"/>
<path stroke="#8443c6" d="M346.5 229.0h0"/>
<path stroke="#9b23ad" d="M324.4 226.6h0M343.4 224.2h0M346.4 230.4h0"/>
<path stroke="#0074f0" d="M320.7 224.8h0M319.9 224.9h0"/>
<path stroke="#f20072" d="M374.4 225.7h0"/>
<path stroke="#007cf5" d="M324.1 228.4h0M341.5 231.7h0M323.0 228.0h0M291.2 225.7h0M320.8 226.7h0M329.5 224.6h0M331.5 224.4h0M341.4 221.3h0"/>
<path stroke="#008bfb" d="M333.7 223.5h0M344.7 232.0h0M332.7 218.1h0M343.6 229.4h0M326.6 229.7h0M341.6 219.5h0M305.6 225.8h0M326.2 229.3h0M344.1 218.9h0M330.9 222.2h0M289.6 225.7h0M337.7 235.0h0M320.2 226.5h0"/>
<path stroke="#f90067" d="M367.2 225.8h0"/>
<path stroke="#ff0058" d="M298.2 225.7h0"/>
<path stroke="#9135ba" d="M314.9 225.7h0"/>
<path stroke="#c80098" d="M321.5 225.7h0"/>
<path stroke="#f20072" d="M380.2 225.7h0"/>
<path stroke="#c80098" d="M383.1 225.7h0"/>
<path stroke="#f20072" d="M386.0 225.7h0"/>
<path stroke="#9135ba" d="M355.5 252.9h0M344.6 255.2h0M334.6 256.6h0M339.9 252.8h0M342.4 255.5h0"/>
<path stroke="#bb00a0" d="M326.0 250.5h0M330.8 258.0h0M328.6 252.1h0M338.7 243.9h0M332.5 252.9h0"/>
<path stroke="#f20072" d="M332.5 245.9h0"/>
<path stroke="#008bfb" d="M298.7 252.9h0M283.5 252.9h0M343.8 257.8h0M314.7 252.9h0M363.5 252.9h0M292.3 252.9h0M284.3 252.9h0"/>
<path stroke="#007cf5" d="M349.8 251.9h0M289.1 252.9h0M370.7 252.9h0"/>
<path stroke="#ab15a7" d="M354.7 252.9h0M347.7 250.7h0"/>
<path stroke="#9b23ad" d="M349.9 253.9h0"/>
<path stroke="#e00086" d="M331.3 257.3h0M347.4 255.9h0"/>
<path stroke="#c80098" d="M324.6 252.0h0M330.3 255.7h0M338.4 253.8h0M332.6 259.9h0M342.1 260.3h0M338.7 249.0h0"/>
<path stroke="#d5008f" d="M333.4 247.6h0M334.1 245.0h0M335.2 259.9h0M348.8 254.2h0"/>
<path stroke="#8443c6" d="M350.7 253.4h0"/>
<path stroke="#0084f9" d="M373.1 252.9h0M312.3 252.9h0M340.9 249.1h0M343.7 252.2h0M293.9 252.9h0M358.7 252.9h0M297.9 252.9h0"/>
<path stroke="#f90067" d="M338.1 243.6h0M333.9 260.8h0M328.8 254.3h0"/>
<path stroke="#008bfb" d="M287.5 252.9h0M344.4 253.4h0M369.1 252.9h0M333.4 257.7h0M334.3 253.8h0M322.7 253.3h0M338.4 258.2h0M339.7 245.6h0M295.5 252.9h0M286.7 252.9h0"/>
<path stroke="#0084f9" d="M318.7 252.9h0M321.9 252.9h0M319.5 252.9h0"/>
<path stroke="#f20072" d="M338.9 261.9h0M333.4 245.4h0M330.0 258.2h0"/>
<path stroke="#ab15a7" d="M343.3 259.3h0"/>
<path stroke="#754fd1" d="M335.3 261.5h0"/>
<path stroke="#007cf5" d="M340.9 255.9h0M335.5 257.3h0M338.6 251.9h0"/>
<path stroke="#e9007c" d="M337.2 247.4h0M330.0 253.8h0"/>
<path stroke="#8443c6" d="M333.5 252.9h0M341.6 258.3h0M348.7 252.2h0"/>
<path stroke="#c80098" d="M340.7 251.6h0M343.5 246.5h0M334.4 247.3h0M334.2 260.6h0"/>
<path stroke="#9135ba" d="M342.0 257.8h0M343.1 247.2h0"/>
<path stroke="#bb00a0" d="M328.9 257.7h0M339.3 255.6h0M324.3 251.6h0M330.0 247.6h0M337.1 262.2h0"/>
<path stroke="#d5008f" d="M330.5 258.8h0M348.1 250.7h0M326.3 255.1h0"/>
<path stroke="#f20072" d="M326.5 255.9h0"/>
<path stroke="#008bfb" d="M316.3 252.9h0M323.4 253.8h0M333.1 250.3h0M344.3 258.8h0M310.7 252.9h0M349.0 254.5h0M340.9 254.2h0M304.3 252.9h0"/>
<path stroke="#bb00a0" d="M335.0 261.2h0M328.5 249.7h0"/>
<path stroke="#754fd1" d="M348.3 255.2h0M352.3 252.8h0"/>
<path stroke="#007cf5" d="M335.8 251.8h0M299.5 252.9h0"/>
<path stroke="#9b23ad" d="M337.9 262.2h0"/>
<path stroke="#0084f9" d="M378.7 252.9h0M342.7 259.8h0M308.3 252.9h0M346.9 256.7h0M376.3 252.9h0M345.1 247.6h0M341.9 245.9h0"/>
<path stroke="#f90067" d="M333.7 260.6h0M325.0 254.7h0"/>
<path stroke="#d5008f" d="M344.9 248.7h0M339.6 258.1h0"/>
<path stroke="#8443c6" d="M328.9 256.8h0M342.8 250.3h0M339.4 244.3h0M339.7 248.2h0M327.9 255.9h0"/>
<path stroke="#e00086" d="M337.2 243.6h0"/>
<path stroke="#9135ba" d="M327.7 256.5h0M326.1 250.7h0M334.0 258.4h0M325.8 255.3h0"/>
<path stroke="#e9007c" d="M344.1 247.0h0"/>
<path stroke="#c80098" d="M328.2 254.2h0M339.0 245.1h0M327.0 252.6h0M329.3 248.1h0M331.5 246.5h0"/>
<path stroke="#9135ba" d="M348.9 251.3h0M339.5 260.3h0"/>
<path stroke="#f20072" d="M337.6 253.7h0"/>
<path stroke="#c80098" d="M337.8 256.4h0M331.4 259.2h0"/>
<path stroke="#e9007c" d="M347.6 249.9h0M330.5 251.1h0"/>
<path stroke="#008bfb" d="M303.5 252.9h0M335.7 245.1h0M368.3 252.9h0M301.9 252.9h0M324.1 254.3h0M297.1 252.9h0M300.3 252.9h0M322.6 252.5h0M309.1 252.9h0M285.1 252.9h0M315.5 252.9h0M323.7 252.0h0M289.9 252.9h0"/>
<path stroke="#9b23ad" d="M330.8 247.0h0"/>
<path stroke="#0074f0" d="M317.1 252.9h0"/>
<path stroke="#d5008f" d="M336.5 243.9h0M337.2 249.6h0M331.3 259.4h0M345.1 257.7h0M351.0 252.5h0"/>
<path stroke="#0084f9" d="M361.9 252.9h0M356.3 252.9h0M345.6 257.4h0M381.1 252.9h0M380.3 252.9h0M357.1 252.9h0M305.9 252.9h0M290.7 252.9h0M377.1 252.9h0M351.5 252.8h0M367.5 252.9h0"/>
<path stroke="#8443c6" d="M327.8 249.3h0M331.5 248.3h0M337.3 244.9h0"/>
<path stroke="#ab15a7" d="M331.9 250.9h0M334.8 244.7h0"/>
<path stroke="#f20072" d="M328.5 248.7h0M331.0 249.3h0M346.6 252.9h0"/>
<path stroke="#8443c6" d="M335.9 249.5h0M325.9 252.5h0M331.8 255.4h0M337.1 258.5h0M339.5 261.6h0"/>
<path stroke="#008bfb" d="M309.9 252.9h0M346.8 252.4h0M365.1 252.9h0M369.9 252.9h0M377.9 252.9h0M307.5 252.9h0M343.1 254.8h0M357.9 252.9h0M294.7 252.9h0M362.7 252.9h0"/>
<path stroke="#0084f9" d="M374.7 252.9h0M305.1 252.9h0M313.9 252.9h0"/>
<path stroke="#bb00a0" d="M333.9 252.0h0"/>
<path stroke="#d5008f" d="M325.3 254.1h0M347.0 254.7h0M338.9 260.5h0M345.0 258.2h0"/>
<path stroke="#9b23ad" d="M342.6 246.0h0"/>
<path stroke="#007cf5" d="M302.7 252.9h0M359.5 252.9h0M293.1 252.9h0M311.5 252.9h0"/>
<path stroke="#c80098" d="M326.9 249.9h0M337.5 261.1h0M334.0 249.1h0M340.8 247.4h0"/>
<path stroke="#e9007c" d="M328.4 257.1h0M329.1 249.5h0"/>
<path stroke="#9135ba" d="M336.4 254.8h0M332.9 260.5h0M337.2 251.8h0"/>
<path stroke="#e00086" d="M336.3 247.5h0M342.1 245.5h0M324.9 251.1h0"/>
<path stroke="#9b23ad" d="M353.1 252.9h0M336.8 256.0h0M341.0 245.0h0M340.8 260.8h0M342.4 247.9h0"/>
<path stroke="#008bfb" d="M371.5 252.9h0M336.1 261.9h0M353.9 252.9h0M366.7 252.9h0M379.5 252.9h0M360.3 252.9h0M313.1 252.9h0M339.1 250.5h0M291.5 252.9h0M321.1 252.9h0"/>
<path stroke="#e00086" d="M340.0 244.6h0"/>
<path stroke="#c80098" d="M340.9 260.8h0M342.0 252.7h0"/>
<path stroke="#8443c6" d="M345.6 248.4h0M344.0 249.9h0"/>
<path stroke="#9135ba" d="M344.9 251.0h0M346.5 249.2h0M333.6 255.1h0M346.6 255.0h0"/>
<path stroke="#bb00a0" d="M340.6 261.2h0M335.7 244.3h0"/>
<path stroke="#0084f9" d="M296.3 252.9h0M365.9 252.9h0M364.3 252.9h0M345.6 251.0h0M288.3 252.9h0M373.9 252.9h0M361.1 252.9h0M317.9 252.9h0M329.4 251.9h0M301.1 252.9h0"/>
<path stroke="#007cf5" d="M306.7 252.9h0M372.3 252.9h0M320.3 252.9h0M375.5 252.9h0M285.9 252.9h0"/>
<path stroke="#d5008f" d="M345.9 248.4h0M338.7 246.8h0"/>
<path stroke="#0086fa" d="M271.8 252.9h0"/>
<path stroke="#ff0058" d="M310.8 252.9h0"/>
<path stroke="#ff0058" d="M323.4 252.9h0"/>
<path stroke="#f20072" d="M351.3 252.9h0"/></g>
<line x1="135.0" y1="280.2" x2="482.8" y2="280.2" stroke="#333" stroke-width="1"/>
<line x1="193.0" y1="280.2" x2="193.0" y2="283.5" stroke="#333" stroke-width="0.8"/>
<text x="193.0" y="294.5" font-size="10" text-anchor="middle" fill="#333">−4</text>
<line x1="265.3" y1="280.2" x2="265.3" y2="283.5" stroke="#333" stroke-width="0.8"/>
<text x="265.3" y="294.5" font-size="10" text-anchor="middle" fill="#333">−2</text>
<line x1="337.6" y1="280.2" x2="337.6" y2="283.5" stroke="#333" stroke-width="0.8"/>
<text x="337.6" y="294.5" font-size="10" text-anchor="middle" fill="#333">0</text>
<line x1="409.9" y1="280.2" x2="409.9" y2="283.5" stroke="#333" stroke-width="0.8"/>
<text x="409.9" y="294.5" font-size="10" text-anchor="middle" fill="#333">2</text>
<line x1="482.2" y1="280.2" x2="482.2" y2="283.5" stroke="#333" stroke-width="0.8"/>
<text x="482.2" y="294.5" font-size="10" text-anchor="middle" fill="#333">4</text>
<text x="308.9" y="311" font-size="12.6" text-anchor="middle" fill="#333">SHAP value (impact on model output)</text>
<text x="112.3" y="40.6" font-size="12.6" text-anchor="end" fill="#333">Lithology</text>
<text x="112.3" y="67.8" font-size="12.6" text-anchor="end" fill="#333">Altitude</text>
<text x="112.3" y="95.0" font-size="12.6" text-anchor="end" fill="#333">TWI</text>
<text x="112.3" y="122.2" font-size="12.6" text-anchor="end" fill="#333">Slope Orientation</text>
<text x="112.3" y="149.3" font-size="12.6" text-anchor="end" fill="#333">Slope Gradient</text>
<text x="112.3" y="176.5" font-size="12.6" text-anchor="end" fill="#333">Drainage Density</text>
<text x="112.3" y="203.7" font-size="12.6" text-anchor="end" fill="#333">Plan Curvature</text>
<text x="112.3" y="230.8" font-size="12.6" text-anchor="end" fill="#333">SPI</text>
<text x="112.3" y="258.0" font-size="12.6" text-anchor="end" fill="#333">Profile Curvature</text>
<defs><linearGradient id="cb" x1="0" y1="1" x2="0" y2="0"><stop offset="0.00" stop-color="#008bfb"/><stop offset="0.10" stop-color="#007cf5"/><stop offset="0.20" stop-color="#236cea"/><stop offset="0.30" stop-color="#6359da"/><stop offset="0.40" stop-color="#8443c6"/><stop offset="0.50" stop-color="#9b23ad"/><stop offset="0.60" stop-color="#bb00a0"/><stop offset="0.70" stop-color="#d5008f"/><stop offset="0.80" stop-color="#e9007c"/><stop offset="0.90" stop-color="#f90067"/><stop offset="1.00" stop-color="#ff0051"/></linearGradient></defs>
<rect x="504" y="9" width="5" height="270.5" fill="url(#cb)"/>
<text x="513" y="13.3" font-size="10.5" fill="#333">High</text>
<text x="513" y="284.7" font-size="10.5" fill="#333">Low</text>
<text transform="translate(547,144.2) rotate(-90)" font-size="12" text-anchor="middle" fill="#333">Feature value</text>
</svg>
</body></html>
